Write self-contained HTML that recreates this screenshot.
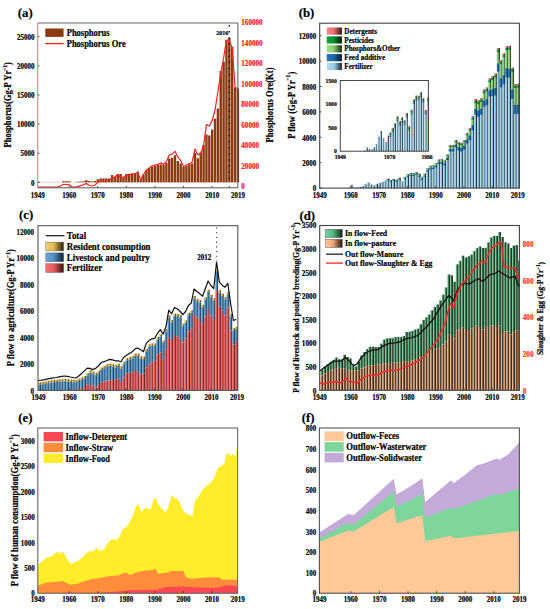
<!DOCTYPE html>
<html><head><meta charset="utf-8"><style>
html,body{margin:0;padding:0;background:#fff;}
svg{display:block;}
text{stroke-width:0.18px;paint-order:fill;}
</style></head><body>
<svg width="550" height="609" viewBox="0 0 550 609" font-family='"Liberation Serif", serif'>
<defs><linearGradient id="gDet" x1="0" y1="0" x2="1" y2="0"><stop offset="0" stop-color="#f58a8a"/><stop offset="0.45" stop-color="#e87070"/><stop offset="1" stop-color="#3a1010"/></linearGradient><linearGradient id="gPes" x1="0" y1="0" x2="1" y2="0"><stop offset="0" stop-color="#10a838"/><stop offset="0.45" stop-color="#089030"/><stop offset="1" stop-color="#001a08"/></linearGradient><linearGradient id="gPho" x1="0" y1="0" x2="1" y2="0"><stop offset="0" stop-color="#a0e090"/><stop offset="0.45" stop-color="#88cc70"/><stop offset="1" stop-color="#1a2a14"/></linearGradient><linearGradient id="gFeed" x1="0" y1="0" x2="1" y2="0"><stop offset="0" stop-color="#2a78b8"/><stop offset="0.45" stop-color="#1c68a8"/><stop offset="1" stop-color="#001828"/></linearGradient><linearGradient id="gFer" x1="0" y1="0" x2="1" y2="0"><stop offset="0" stop-color="#b8e4f8"/><stop offset="0.4" stop-color="#98cee6"/><stop offset="0.65" stop-color="#6890a4"/><stop offset="0.8" stop-color="#243440"/><stop offset="1" stop-color="#050d14"/></linearGradient><linearGradient id="gFerL" x1="0" y1="0" x2="1" y2="0"><stop offset="0" stop-color="#b0e0f4"/><stop offset="0.5" stop-color="#98cce4"/><stop offset="1" stop-color="#12202c"/></linearGradient><linearGradient id="gRes" x1="0" y1="0" x2="1" y2="0"><stop offset="0" stop-color="#f4d070"/><stop offset="0.45" stop-color="#e0b850"/><stop offset="1" stop-color="#2a1c06"/></linearGradient><linearGradient id="gLive" x1="0" y1="0" x2="1" y2="0"><stop offset="0" stop-color="#6aa8d8"/><stop offset="0.45" stop-color="#5090c0"/><stop offset="1" stop-color="#0c1c2c"/></linearGradient><linearGradient id="gCFer" x1="0" y1="0" x2="1" y2="0"><stop offset="0" stop-color="#f87070"/><stop offset="0.45" stop-color="#e05c5c"/><stop offset="1" stop-color="#3a0c0c"/></linearGradient><linearGradient id="gFeedD" x1="0" y1="0" x2="1" y2="0"><stop offset="0" stop-color="#7ae0a2"/><stop offset="0.28" stop-color="#5aac7a"/><stop offset="0.55" stop-color="#36543e"/><stop offset="1" stop-color="#0c140c"/></linearGradient><linearGradient id="gPas" x1="0" y1="0" x2="1" y2="0"><stop offset="0" stop-color="#ffc898"/><stop offset="0.28" stop-color="#dc9e74"/><stop offset="0.55" stop-color="#5e4432"/><stop offset="1" stop-color="#1a140c"/></linearGradient><linearGradient id="gFeedL" x1="0" y1="0" x2="1" y2="0"><stop offset="0" stop-color="#70d8a0"/><stop offset="0.45" stop-color="#58b880"/><stop offset="1" stop-color="#0c2414"/></linearGradient><linearGradient id="gPasL" x1="0" y1="0" x2="1" y2="0"><stop offset="0" stop-color="#ffc898"/><stop offset="0.45" stop-color="#eaa878"/><stop offset="1" stop-color="#2a1808"/></linearGradient></defs>
<rect width="550" height="609" fill="#fff"/>
<rect x="62.24" y="181.20" width="2.40" height="1.10" fill="#8c3a10"/>
<rect x="65.10" y="181.20" width="2.40" height="1.10" fill="#8c3a10"/>
<rect x="67.96" y="181.20" width="2.40" height="1.10" fill="#8c3a10"/>
<rect x="76.54" y="181.80" width="2.40" height="0.50" fill="#8c3a10"/>
<rect x="79.40" y="181.60" width="2.40" height="0.70" fill="#8c3a10"/>
<rect x="82.26" y="181.30" width="2.40" height="1.00" fill="#8c3a10"/>
<rect x="85.12" y="180.20" width="2.40" height="2.10" fill="#8c3a10"/>
<rect x="87.98" y="181.00" width="2.40" height="1.30" fill="#8c3a10"/>
<rect x="90.84" y="181.50" width="2.40" height="0.80" fill="#8c3a10"/>
<rect x="93.70" y="181.00" width="2.40" height="1.30" fill="#8c3a10"/>
<rect x="96.56" y="179.40" width="2.40" height="2.90" fill="#8c3a10"/>
<rect x="99.42" y="178.40" width="2.40" height="3.90" fill="#8c3a10"/>
<rect x="102.28" y="178.40" width="2.40" height="3.90" fill="#8c3a10"/>
<rect x="105.14" y="178.40" width="2.40" height="3.90" fill="#8c3a10"/>
<rect x="108.00" y="178.40" width="2.40" height="3.90" fill="#8c3a10"/>
<rect x="110.86" y="175.00" width="2.40" height="7.30" fill="#8c3a10"/>
<rect x="113.72" y="176.70" width="2.40" height="5.60" fill="#8c3a10"/>
<rect x="116.58" y="174.00" width="2.40" height="8.30" fill="#8c3a10"/>
<rect x="119.44" y="174.00" width="2.40" height="8.30" fill="#8c3a10"/>
<rect x="122.30" y="176.50" width="2.40" height="5.80" fill="#8c3a10"/>
<rect x="125.16" y="174.00" width="2.40" height="8.30" fill="#8c3a10"/>
<rect x="128.02" y="173.80" width="2.40" height="8.50" fill="#8c3a10"/>
<rect x="130.88" y="173.80" width="2.40" height="8.50" fill="#8c3a10"/>
<rect x="133.74" y="173.50" width="2.40" height="8.80" fill="#8c3a10"/>
<rect x="136.60" y="171.60" width="2.40" height="10.70" fill="#8c3a10"/>
<rect x="139.46" y="179.00" width="2.40" height="3.30" fill="#8c3a10"/>
<rect x="142.32" y="174.50" width="2.40" height="7.80" fill="#8c3a10"/>
<rect x="145.18" y="170.00" width="2.40" height="12.30" fill="#8c3a10"/>
<rect x="148.04" y="168.00" width="2.40" height="14.30" fill="#8c3a10"/>
<rect x="150.90" y="166.50" width="2.40" height="15.80" fill="#8c3a10"/>
<rect x="153.76" y="165.80" width="2.40" height="16.50" fill="#8c3a10"/>
<rect x="156.62" y="165.00" width="2.40" height="17.30" fill="#8c3a10"/>
<rect x="159.48" y="164.40" width="2.40" height="17.90" fill="#8c3a10"/>
<rect x="162.34" y="165.00" width="2.40" height="17.30" fill="#8c3a10"/>
<rect x="165.20" y="163.00" width="2.40" height="19.30" fill="#8c3a10"/>
<rect x="168.06" y="158.50" width="2.40" height="23.80" fill="#8c3a10"/>
<rect x="170.92" y="157.80" width="2.40" height="24.50" fill="#8c3a10"/>
<rect x="173.78" y="155.30" width="2.40" height="27.00" fill="#8c3a10"/>
<rect x="176.64" y="161.00" width="2.40" height="21.30" fill="#8c3a10"/>
<rect x="179.50" y="163.50" width="2.40" height="18.80" fill="#8c3a10"/>
<rect x="182.36" y="167.00" width="2.40" height="15.30" fill="#8c3a10"/>
<rect x="185.22" y="165.70" width="2.40" height="16.60" fill="#8c3a10"/>
<rect x="188.08" y="164.20" width="2.40" height="18.10" fill="#8c3a10"/>
<rect x="190.94" y="163.50" width="2.40" height="18.80" fill="#8c3a10"/>
<rect x="193.80" y="153.00" width="2.40" height="29.30" fill="#8c3a10"/>
<rect x="196.66" y="158.30" width="2.40" height="24.00" fill="#8c3a10"/>
<rect x="199.52" y="152.40" width="2.40" height="29.90" fill="#8c3a10"/>
<rect x="202.38" y="145.00" width="2.40" height="37.30" fill="#8c3a10"/>
<rect x="205.24" y="134.50" width="2.40" height="47.80" fill="#8c3a10"/>
<rect x="208.10" y="135.40" width="2.40" height="46.90" fill="#8c3a10"/>
<rect x="210.96" y="129.50" width="2.40" height="52.80" fill="#8c3a10"/>
<rect x="213.82" y="118.80" width="2.40" height="63.50" fill="#8c3a10"/>
<rect x="216.68" y="108.50" width="2.40" height="73.80" fill="#8c3a10"/>
<rect x="219.54" y="71.00" width="2.40" height="111.30" fill="#8c3a10"/>
<rect x="222.40" y="61.80" width="2.40" height="120.50" fill="#8c3a10"/>
<rect x="225.26" y="39.80" width="2.40" height="142.50" fill="#8c3a10"/>
<rect x="228.12" y="38.00" width="2.40" height="144.30" fill="#8c3a10"/>
<rect x="230.98" y="46.80" width="2.40" height="135.50" fill="#8c3a10"/>
<rect x="233.84" y="87.50" width="2.40" height="94.80" fill="#8c3a10"/>
<rect x="236.70" y="88.70" width="2.40" height="93.60" fill="#8c3a10"/>
<line x1="37.70" y1="182.30" x2="237.90" y2="182.30" stroke="#b86a40" stroke-width="0.5" stroke-dasharray="1.5,1.2"/>
<line x1="37.70" y1="182.30" x2="39.70" y2="182.30" stroke="#333" stroke-width="0.8"/>
<polyline points="37.70,187.00 57.72,186.80 60.58,186.00 63.44,184.30 66.30,184.50 69.16,184.80 72.02,187.00 74.88,187.00 77.74,186.60 80.60,185.60 83.46,184.80 86.32,183.40 89.18,185.50 92.04,186.00 94.90,185.00 97.76,182.50 100.62,181.00 103.48,181.50 106.34,181.50 109.20,180.00 112.06,178.40 114.92,177.00 117.78,174.50 120.64,177.50 123.50,178.00 126.36,175.30 129.22,174.50 132.08,173.80 134.94,173.50 137.80,173.00 140.66,179.60 143.52,174.50 146.38,170.20 149.24,168.00 152.10,165.80 154.96,165.00 157.82,164.40 160.68,163.00 163.54,164.40 166.40,161.50 169.26,155.00 172.12,154.20 174.98,151.30 177.84,157.00 180.70,160.70 183.56,166.50 186.42,165.00 189.28,163.60 192.14,162.20 195.00,149.00 197.86,155.00 200.72,153.00 203.58,145.50 206.44,124.60 209.30,126.00 212.16,120.60 215.02,110.00 217.88,92.00 220.74,73.00 223.60,58.00 226.46,40.00 229.32,40.80 232.18,47.70 235.04,87.00 237.90,89.00" fill="none" stroke="#ff2020" stroke-width="1.2" stroke-linejoin="round"/>
<line x1="229.32" y1="25.00" x2="229.32" y2="182.30" stroke="#111" stroke-width="1.4" stroke-dasharray="1.5,4.6"/>
<text x="0" y="0" transform="translate(222.30 32.00) scale(1 1.15)" font-size="6.1" text-anchor="middle" fill="#000" stroke="#000" font-weight="bold" dominant-baseline="central">2016</text>
<line x1="37.70" y1="23.00" x2="237.90" y2="23.00" stroke="#666" stroke-width="1.0"/>
<line x1="237.90" y1="23.00" x2="237.90" y2="187.80" stroke="#555" stroke-width="1.0"/>
<line x1="37.70" y1="187.80" x2="237.90" y2="187.80" stroke="#555" stroke-width="1.0"/>
<line x1="37.70" y1="23.00" x2="37.70" y2="187.80" stroke="#c09080" stroke-width="1.1"/>
<line x1="69.16" y1="187.80" x2="69.16" y2="185.80" stroke="#333" stroke-width="0.8"/>
<line x1="97.76" y1="187.80" x2="97.76" y2="185.80" stroke="#333" stroke-width="0.8"/>
<line x1="126.36" y1="187.80" x2="126.36" y2="185.80" stroke="#333" stroke-width="0.8"/>
<line x1="154.96" y1="187.80" x2="154.96" y2="185.80" stroke="#333" stroke-width="0.8"/>
<line x1="183.56" y1="187.80" x2="183.56" y2="185.80" stroke="#333" stroke-width="0.8"/>
<line x1="212.16" y1="187.80" x2="212.16" y2="185.80" stroke="#333" stroke-width="0.8"/>
<line x1="229.32" y1="187.80" x2="229.32" y2="185.80" stroke="#333" stroke-width="0.8"/>
<line x1="37.70" y1="182.30" x2="39.70" y2="182.30" stroke="#8c3a10" stroke-width="0.8"/>
<text x="0" y="0" transform="translate(34.50 182.90) scale(1 1.15)" font-size="7" text-anchor="end" fill="#000" stroke="#000" font-weight="bold" dominant-baseline="central">0</text>
<line x1="37.70" y1="153.20" x2="39.70" y2="153.20" stroke="#8c3a10" stroke-width="0.8"/>
<text x="0" y="0" transform="translate(34.50 153.80) scale(1 1.15)" font-size="7" text-anchor="end" fill="#000" stroke="#000" font-weight="bold" dominant-baseline="central">5000</text>
<line x1="37.70" y1="124.10" x2="39.70" y2="124.10" stroke="#8c3a10" stroke-width="0.8"/>
<text x="0" y="0" transform="translate(34.50 124.70) scale(1 1.15)" font-size="7" text-anchor="end" fill="#000" stroke="#000" font-weight="bold" dominant-baseline="central">10000</text>
<line x1="37.70" y1="95.00" x2="39.70" y2="95.00" stroke="#8c3a10" stroke-width="0.8"/>
<text x="0" y="0" transform="translate(34.50 95.60) scale(1 1.15)" font-size="7" text-anchor="end" fill="#000" stroke="#000" font-weight="bold" dominant-baseline="central">15000</text>
<line x1="37.70" y1="65.90" x2="39.70" y2="65.90" stroke="#8c3a10" stroke-width="0.8"/>
<text x="0" y="0" transform="translate(34.50 66.50) scale(1 1.15)" font-size="7" text-anchor="end" fill="#000" stroke="#000" font-weight="bold" dominant-baseline="central">20000</text>
<line x1="37.70" y1="36.80" x2="39.70" y2="36.80" stroke="#8c3a10" stroke-width="0.8"/>
<text x="0" y="0" transform="translate(34.50 37.40) scale(1 1.15)" font-size="7" text-anchor="end" fill="#000" stroke="#000" font-weight="bold" dominant-baseline="central">25000</text>
<text x="0" y="0" transform="translate(241.30 186.50) scale(1 1.15)" font-size="7.1" text-anchor="start" fill="#ff1818" stroke="#ff1818" font-weight="bold" dominant-baseline="central">0</text>
<text x="0" y="0" transform="translate(241.30 166.00) scale(1 1.15)" font-size="7.1" text-anchor="start" fill="#ff1818" stroke="#ff1818" font-weight="bold" dominant-baseline="central">20000</text>
<text x="0" y="0" transform="translate(241.30 145.50) scale(1 1.15)" font-size="7.1" text-anchor="start" fill="#ff1818" stroke="#ff1818" font-weight="bold" dominant-baseline="central">40000</text>
<text x="0" y="0" transform="translate(241.30 125.00) scale(1 1.15)" font-size="7.1" text-anchor="start" fill="#ff1818" stroke="#ff1818" font-weight="bold" dominant-baseline="central">60000</text>
<text x="0" y="0" transform="translate(241.30 104.50) scale(1 1.15)" font-size="7.1" text-anchor="start" fill="#ff1818" stroke="#ff1818" font-weight="bold" dominant-baseline="central">80000</text>
<text x="0" y="0" transform="translate(241.30 84.00) scale(1 1.15)" font-size="7.1" text-anchor="start" fill="#ff1818" stroke="#ff1818" font-weight="bold" dominant-baseline="central">100000</text>
<text x="0" y="0" transform="translate(241.30 63.50) scale(1 1.15)" font-size="7.1" text-anchor="start" fill="#ff1818" stroke="#ff1818" font-weight="bold" dominant-baseline="central">120000</text>
<text x="0" y="0" transform="translate(241.30 43.00) scale(1 1.15)" font-size="7.1" text-anchor="start" fill="#ff1818" stroke="#ff1818" font-weight="bold" dominant-baseline="central">140000</text>
<text x="0" y="0" transform="translate(241.30 22.50) scale(1 1.15)" font-size="7.1" text-anchor="start" fill="#ff1818" stroke="#ff1818" font-weight="bold" dominant-baseline="central">160000</text>
<text x="0" y="0" transform="translate(37.70 195.30) scale(1 1.15)" font-size="7" text-anchor="middle" fill="#000" stroke="#000" font-weight="bold" dominant-baseline="central">1949</text>
<text x="0" y="0" transform="translate(69.16 195.30) scale(1 1.15)" font-size="7" text-anchor="middle" fill="#000" stroke="#000" font-weight="bold" dominant-baseline="central">1960</text>
<text x="0" y="0" transform="translate(97.76 195.30) scale(1 1.15)" font-size="7" text-anchor="middle" fill="#000" stroke="#000" font-weight="bold" dominant-baseline="central">1970</text>
<text x="0" y="0" transform="translate(126.36 195.30) scale(1 1.15)" font-size="7" text-anchor="middle" fill="#000" stroke="#000" font-weight="bold" dominant-baseline="central">1980</text>
<text x="0" y="0" transform="translate(154.96 195.30) scale(1 1.15)" font-size="7" text-anchor="middle" fill="#000" stroke="#000" font-weight="bold" dominant-baseline="central">1990</text>
<text x="0" y="0" transform="translate(183.56 195.30) scale(1 1.15)" font-size="7" text-anchor="middle" fill="#000" stroke="#000" font-weight="bold" dominant-baseline="central">2000</text>
<text x="0" y="0" transform="translate(212.16 195.30) scale(1 1.15)" font-size="7" text-anchor="middle" fill="#000" stroke="#000" font-weight="bold" dominant-baseline="central">2010</text>
<text x="0" y="0" transform="translate(237.90 195.30) scale(1 1.15)" font-size="7" text-anchor="middle" fill="#000" stroke="#000" font-weight="bold" dominant-baseline="central">2019</text>
<text x="0" y="0" font-size="8.6" font-weight="bold" stroke="#000" text-anchor="middle" dominant-baseline="central" transform="translate(8.3 104.8) rotate(-90) scale(1 1.12)">Phosphorus(Gg-P Yr<tspan dy="-3" font-size="5.5">&#8722;1</tspan><tspan dy="3">)</tspan></text>
<text x="0" y="0" font-size="8.6" font-weight="bold" stroke="#000" text-anchor="middle" dominant-baseline="central" transform="translate(270 105) rotate(-90) scale(1 1.12)">Phosphorus Ore(Kt)</text>
<text x="0" y="0" transform="translate(25.20 12.90) scale(1 1.04)" font-size="12.8" text-anchor="middle" fill="#000" stroke="#000" font-weight="bold" dominant-baseline="central">(a)</text>
<rect x="45.30" y="28.50" width="18.30" height="8.40" fill="#8c3a10"/>
<text x="0" y="0" transform="translate(66.70 32.70) scale(1 1.15)" font-size="8.5" text-anchor="start" fill="#000" stroke="#000" font-weight="bold" dominant-baseline="central">Phosphorus</text>
<line x1="45.30" y1="43.60" x2="63.60" y2="43.60" stroke="#ff1a1a" stroke-width="1.3"/>
<text x="0" y="0" transform="translate(66.70 43.80) scale(1 1.15)" font-size="8.5" text-anchor="start" fill="#000" stroke="#000" font-weight="bold" dominant-baseline="central">Phosphorus Ore</text>
<rect x="349.68" y="184.80" width="2.83" height="3.30" fill="url(#gFer)"/>
<rect x="352.51" y="187.53" width="2.83" height="0.57" fill="url(#gFer)"/>
<rect x="355.34" y="187.53" width="2.83" height="0.57" fill="url(#gFer)"/>
<rect x="358.17" y="187.08" width="2.83" height="1.02" fill="url(#gFer)"/>
<rect x="361.00" y="186.19" width="2.83" height="1.91" fill="url(#gFer)"/>
<rect x="363.83" y="184.16" width="2.83" height="3.94" fill="url(#gFer)"/>
<rect x="366.66" y="182.64" width="2.83" height="5.46" fill="url(#gFer)"/>
<rect x="369.49" y="184.54" width="2.83" height="3.56" fill="url(#gFer)"/>
<rect x="372.32" y="185.62" width="2.83" height="2.48" fill="url(#gFer)"/>
<rect x="375.15" y="183.85" width="2.83" height="4.25" fill="url(#gFer)"/>
<rect x="377.98" y="183.02" width="2.83" height="5.08" fill="url(#gFer)"/>
<rect x="380.81" y="181.81" width="2.83" height="6.29" fill="url(#gFer)"/>
<rect x="383.64" y="180.61" width="2.83" height="7.49" fill="url(#gFer)"/>
<rect x="386.47" y="178.70" width="2.83" height="9.40" fill="url(#gFer)"/>
<rect x="386.47" y="178.70" width="2.83" height="0.50" fill="url(#gDet)"/>
<rect x="386.47" y="179.20" width="2.83" height="0.60" fill="url(#gPes)"/>
<rect x="386.47" y="179.80" width="2.83" height="0.46" fill="url(#gPho)"/>
<rect x="386.47" y="180.26" width="2.83" height="0.46" fill="url(#gFeed)"/>
<rect x="389.30" y="180.02" width="2.83" height="8.08" fill="url(#gFer)"/>
<rect x="389.30" y="180.02" width="2.83" height="0.50" fill="url(#gDet)"/>
<rect x="389.30" y="180.52" width="2.83" height="0.60" fill="url(#gPes)"/>
<rect x="389.30" y="181.12" width="2.83" height="0.48" fill="url(#gPho)"/>
<rect x="389.30" y="181.60" width="2.83" height="0.48" fill="url(#gFeed)"/>
<rect x="392.13" y="178.96" width="2.83" height="9.14" fill="url(#gFer)"/>
<rect x="392.13" y="178.96" width="2.83" height="0.50" fill="url(#gDet)"/>
<rect x="392.13" y="179.46" width="2.83" height="0.60" fill="url(#gPes)"/>
<rect x="392.13" y="180.06" width="2.83" height="0.50" fill="url(#gPho)"/>
<rect x="392.13" y="180.56" width="2.83" height="0.50" fill="url(#gFeed)"/>
<rect x="394.96" y="179.72" width="2.83" height="8.38" fill="url(#gFer)"/>
<rect x="394.96" y="179.72" width="2.83" height="0.50" fill="url(#gDet)"/>
<rect x="394.96" y="180.22" width="2.83" height="0.60" fill="url(#gPes)"/>
<rect x="394.96" y="180.82" width="2.83" height="0.55" fill="url(#gPho)"/>
<rect x="394.96" y="181.37" width="2.83" height="0.55" fill="url(#gFeed)"/>
<rect x="397.79" y="177.79" width="2.83" height="10.31" fill="url(#gFer)"/>
<rect x="397.79" y="177.79" width="2.83" height="0.50" fill="url(#gDet)"/>
<rect x="397.79" y="178.29" width="2.83" height="0.60" fill="url(#gPes)"/>
<rect x="397.79" y="178.89" width="2.83" height="0.60" fill="url(#gPho)"/>
<rect x="397.79" y="179.49" width="2.83" height="0.60" fill="url(#gFeed)"/>
<rect x="400.62" y="181.37" width="2.83" height="6.73" fill="url(#gFer)"/>
<rect x="403.45" y="176.92" width="2.83" height="11.18" fill="url(#gFer)"/>
<rect x="403.45" y="176.92" width="2.83" height="0.50" fill="url(#gDet)"/>
<rect x="403.45" y="177.42" width="2.83" height="0.60" fill="url(#gPes)"/>
<rect x="403.45" y="178.02" width="2.83" height="0.70" fill="url(#gPho)"/>
<rect x="403.45" y="178.72" width="2.83" height="0.70" fill="url(#gFeed)"/>
<rect x="406.28" y="174.13" width="2.83" height="13.97" fill="url(#gFer)"/>
<rect x="406.28" y="174.13" width="2.83" height="0.50" fill="url(#gDet)"/>
<rect x="406.28" y="174.63" width="2.83" height="0.60" fill="url(#gPes)"/>
<rect x="406.28" y="175.23" width="2.83" height="0.75" fill="url(#gPho)"/>
<rect x="406.28" y="175.98" width="2.83" height="0.75" fill="url(#gFeed)"/>
<rect x="409.11" y="173.11" width="2.83" height="14.99" fill="url(#gFer)"/>
<rect x="409.11" y="173.11" width="2.83" height="0.50" fill="url(#gDet)"/>
<rect x="409.11" y="173.61" width="2.83" height="0.60" fill="url(#gPes)"/>
<rect x="409.11" y="174.21" width="2.83" height="0.80" fill="url(#gPho)"/>
<rect x="409.11" y="175.01" width="2.83" height="0.80" fill="url(#gFeed)"/>
<rect x="411.94" y="173.11" width="2.83" height="14.99" fill="url(#gFer)"/>
<rect x="411.94" y="173.11" width="2.83" height="0.50" fill="url(#gDet)"/>
<rect x="411.94" y="173.61" width="2.83" height="0.60" fill="url(#gPes)"/>
<rect x="411.94" y="174.21" width="2.83" height="0.85" fill="url(#gPho)"/>
<rect x="411.94" y="175.06" width="2.83" height="0.85" fill="url(#gFeed)"/>
<rect x="414.77" y="172.22" width="2.83" height="15.88" fill="url(#gFer)"/>
<rect x="414.77" y="172.22" width="2.83" height="0.50" fill="url(#gDet)"/>
<rect x="414.77" y="172.72" width="2.83" height="0.60" fill="url(#gPes)"/>
<rect x="414.77" y="173.32" width="2.83" height="0.90" fill="url(#gPho)"/>
<rect x="414.77" y="174.22" width="2.83" height="0.90" fill="url(#gFeed)"/>
<rect x="417.60" y="173.75" width="2.83" height="14.35" fill="url(#gFer)"/>
<rect x="417.60" y="173.75" width="2.83" height="0.50" fill="url(#gDet)"/>
<rect x="417.60" y="174.25" width="2.83" height="0.60" fill="url(#gPes)"/>
<rect x="417.60" y="174.85" width="2.83" height="0.95" fill="url(#gPho)"/>
<rect x="417.60" y="175.80" width="2.83" height="0.95" fill="url(#gFeed)"/>
<rect x="420.43" y="176.96" width="2.83" height="11.14" fill="url(#gFer)"/>
<rect x="420.43" y="176.96" width="2.83" height="0.50" fill="url(#gDet)"/>
<rect x="420.43" y="177.46" width="2.83" height="0.60" fill="url(#gPes)"/>
<rect x="420.43" y="178.06" width="2.83" height="1.00" fill="url(#gPho)"/>
<rect x="420.43" y="179.06" width="2.83" height="1.00" fill="url(#gFeed)"/>
<rect x="423.26" y="173.53" width="2.83" height="14.57" fill="url(#gFer)"/>
<rect x="423.26" y="173.53" width="2.83" height="0.50" fill="url(#gDet)"/>
<rect x="423.26" y="174.03" width="2.83" height="0.60" fill="url(#gPes)"/>
<rect x="423.26" y="174.63" width="2.83" height="1.10" fill="url(#gPho)"/>
<rect x="423.26" y="175.73" width="2.83" height="1.10" fill="url(#gFeed)"/>
<rect x="426.09" y="168.40" width="2.83" height="19.70" fill="url(#gFer)"/>
<rect x="426.09" y="168.40" width="2.83" height="0.50" fill="url(#gDet)"/>
<rect x="426.09" y="168.90" width="2.83" height="0.60" fill="url(#gPes)"/>
<rect x="426.09" y="169.50" width="2.83" height="1.20" fill="url(#gPho)"/>
<rect x="426.09" y="170.70" width="2.83" height="1.20" fill="url(#gFeed)"/>
<rect x="428.92" y="165.80" width="2.83" height="22.30" fill="url(#gFer)"/>
<rect x="428.92" y="165.80" width="2.83" height="0.50" fill="url(#gDet)"/>
<rect x="428.92" y="166.30" width="2.83" height="0.60" fill="url(#gPes)"/>
<rect x="428.92" y="166.90" width="2.83" height="1.30" fill="url(#gPho)"/>
<rect x="428.92" y="168.20" width="2.83" height="1.30" fill="url(#gFeed)"/>
<rect x="431.75" y="165.10" width="2.83" height="23.00" fill="url(#gFer)"/>
<rect x="431.75" y="165.10" width="2.83" height="0.50" fill="url(#gDet)"/>
<rect x="431.75" y="165.60" width="2.83" height="0.60" fill="url(#gPes)"/>
<rect x="431.75" y="166.20" width="2.83" height="1.40" fill="url(#gPho)"/>
<rect x="431.75" y="167.60" width="2.83" height="1.40" fill="url(#gFeed)"/>
<rect x="434.58" y="163.20" width="2.83" height="24.90" fill="url(#gFer)"/>
<rect x="434.58" y="163.20" width="2.83" height="0.50" fill="url(#gDet)"/>
<rect x="434.58" y="163.70" width="2.83" height="0.60" fill="url(#gPes)"/>
<rect x="434.58" y="164.30" width="2.83" height="1.50" fill="url(#gPho)"/>
<rect x="434.58" y="165.80" width="2.83" height="1.50" fill="url(#gFeed)"/>
<rect x="437.41" y="159.60" width="2.83" height="28.50" fill="url(#gFer)"/>
<rect x="437.41" y="159.60" width="2.83" height="0.50" fill="url(#gDet)"/>
<rect x="437.41" y="160.10" width="2.83" height="0.60" fill="url(#gPes)"/>
<rect x="437.41" y="160.70" width="2.83" height="1.61" fill="url(#gPho)"/>
<rect x="437.41" y="162.31" width="2.83" height="1.67" fill="url(#gFeed)"/>
<rect x="440.24" y="159.20" width="2.83" height="28.90" fill="url(#gFer)"/>
<rect x="440.24" y="159.20" width="2.83" height="0.50" fill="url(#gDet)"/>
<rect x="440.24" y="159.70" width="2.83" height="0.60" fill="url(#gPes)"/>
<rect x="440.24" y="160.30" width="2.83" height="1.73" fill="url(#gPho)"/>
<rect x="440.24" y="162.03" width="2.83" height="1.84" fill="url(#gFeed)"/>
<rect x="443.07" y="160.50" width="2.83" height="27.60" fill="url(#gFer)"/>
<rect x="443.07" y="160.50" width="2.83" height="0.50" fill="url(#gDet)"/>
<rect x="443.07" y="161.00" width="2.83" height="0.60" fill="url(#gPes)"/>
<rect x="443.07" y="161.60" width="2.83" height="1.84" fill="url(#gPho)"/>
<rect x="443.07" y="163.44" width="2.83" height="2.01" fill="url(#gFeed)"/>
<rect x="445.90" y="154.60" width="2.83" height="33.50" fill="url(#gFer)"/>
<rect x="445.90" y="154.60" width="2.83" height="0.60" fill="url(#gDet)"/>
<rect x="445.90" y="155.20" width="2.83" height="0.70" fill="url(#gPes)"/>
<rect x="445.90" y="155.91" width="2.83" height="1.96" fill="url(#gPho)"/>
<rect x="445.90" y="157.87" width="2.83" height="2.19" fill="url(#gFeed)"/>
<rect x="448.73" y="145.10" width="2.83" height="43.00" fill="url(#gFer)"/>
<rect x="448.73" y="145.10" width="2.83" height="0.89" fill="url(#gDet)"/>
<rect x="448.73" y="145.99" width="2.83" height="0.99" fill="url(#gPes)"/>
<rect x="448.73" y="146.98" width="2.83" height="2.07" fill="url(#gPho)"/>
<rect x="448.73" y="149.05" width="2.83" height="2.36" fill="url(#gFeed)"/>
<rect x="451.56" y="145.00" width="2.83" height="43.10" fill="url(#gFer)"/>
<rect x="451.56" y="145.00" width="2.83" height="0.89" fill="url(#gDet)"/>
<rect x="451.56" y="145.89" width="2.83" height="0.99" fill="url(#gPes)"/>
<rect x="451.56" y="146.89" width="2.83" height="2.19" fill="url(#gPho)"/>
<rect x="451.56" y="149.07" width="2.83" height="2.53" fill="url(#gFeed)"/>
<rect x="454.39" y="140.20" width="2.83" height="47.90" fill="url(#gFer)"/>
<rect x="454.39" y="140.20" width="2.83" height="1.04" fill="url(#gDet)"/>
<rect x="454.39" y="141.24" width="2.83" height="1.14" fill="url(#gPes)"/>
<rect x="454.39" y="142.37" width="2.83" height="2.30" fill="url(#gPho)"/>
<rect x="454.39" y="144.67" width="2.83" height="2.70" fill="url(#gFeed)"/>
<rect x="457.22" y="142.40" width="2.83" height="45.70" fill="url(#gFer)"/>
<rect x="457.22" y="142.40" width="2.83" height="0.97" fill="url(#gDet)"/>
<rect x="457.22" y="143.37" width="2.83" height="1.07" fill="url(#gPes)"/>
<rect x="457.22" y="144.44" width="2.83" height="2.72" fill="url(#gPho)"/>
<rect x="457.22" y="147.17" width="2.83" height="3.03" fill="url(#gFeed)"/>
<rect x="460.05" y="142.90" width="2.83" height="45.20" fill="url(#gFer)"/>
<rect x="460.05" y="142.90" width="2.83" height="0.96" fill="url(#gDet)"/>
<rect x="460.05" y="143.86" width="2.83" height="1.06" fill="url(#gPes)"/>
<rect x="460.05" y="144.91" width="2.83" height="3.15" fill="url(#gPho)"/>
<rect x="460.05" y="148.06" width="2.83" height="3.35" fill="url(#gFeed)"/>
<rect x="462.88" y="140.20" width="2.83" height="47.90" fill="url(#gFer)"/>
<rect x="462.88" y="140.20" width="2.83" height="1.04" fill="url(#gDet)"/>
<rect x="462.88" y="141.24" width="2.83" height="1.14" fill="url(#gPes)"/>
<rect x="462.88" y="142.37" width="2.83" height="3.58" fill="url(#gPho)"/>
<rect x="462.88" y="145.95" width="2.83" height="3.67" fill="url(#gFeed)"/>
<rect x="465.71" y="132.90" width="2.83" height="55.20" fill="url(#gFer)"/>
<rect x="465.71" y="132.90" width="2.83" height="1.26" fill="url(#gDet)"/>
<rect x="465.71" y="134.16" width="2.83" height="1.36" fill="url(#gPes)"/>
<rect x="465.71" y="135.51" width="2.83" height="4.00" fill="url(#gPho)"/>
<rect x="465.71" y="139.51" width="2.83" height="4.00" fill="url(#gFeed)"/>
<rect x="468.54" y="128.00" width="2.83" height="60.10" fill="url(#gFer)"/>
<rect x="468.54" y="128.00" width="2.83" height="1.40" fill="url(#gDet)"/>
<rect x="468.54" y="129.40" width="2.83" height="1.50" fill="url(#gPes)"/>
<rect x="468.54" y="130.91" width="2.83" height="4.63" fill="url(#gPho)"/>
<rect x="468.54" y="135.54" width="2.83" height="4.63" fill="url(#gFeed)"/>
<rect x="471.37" y="116.20" width="2.83" height="71.90" fill="url(#gFer)"/>
<rect x="471.37" y="116.20" width="2.83" height="1.76" fill="url(#gDet)"/>
<rect x="471.37" y="117.96" width="2.83" height="1.86" fill="url(#gPes)"/>
<rect x="471.37" y="119.81" width="2.83" height="5.27" fill="url(#gPho)"/>
<rect x="471.37" y="125.08" width="2.83" height="5.27" fill="url(#gFeed)"/>
<rect x="474.20" y="99.00" width="2.83" height="89.10" fill="url(#gFer)"/>
<rect x="474.20" y="99.00" width="2.83" height="1.80" fill="url(#gDet)"/>
<rect x="474.20" y="100.80" width="2.83" height="2.20" fill="url(#gPes)"/>
<rect x="474.20" y="103.00" width="2.83" height="5.90" fill="url(#gPho)"/>
<rect x="474.20" y="108.90" width="2.83" height="5.90" fill="url(#gFeed)"/>
<rect x="477.03" y="100.40" width="2.83" height="87.70" fill="url(#gFer)"/>
<rect x="477.03" y="100.40" width="2.83" height="1.80" fill="url(#gDet)"/>
<rect x="477.03" y="102.20" width="2.83" height="2.20" fill="url(#gPes)"/>
<rect x="477.03" y="104.40" width="2.83" height="6.32" fill="url(#gPho)"/>
<rect x="477.03" y="110.72" width="2.83" height="5.92" fill="url(#gFeed)"/>
<rect x="479.86" y="98.00" width="2.83" height="90.10" fill="url(#gFer)"/>
<rect x="479.86" y="98.00" width="2.83" height="1.80" fill="url(#gDet)"/>
<rect x="479.86" y="99.80" width="2.83" height="2.20" fill="url(#gPes)"/>
<rect x="479.86" y="102.00" width="2.83" height="6.74" fill="url(#gPho)"/>
<rect x="479.86" y="108.74" width="2.83" height="5.94" fill="url(#gFeed)"/>
<rect x="482.69" y="89.50" width="2.83" height="98.60" fill="url(#gFer)"/>
<rect x="482.69" y="89.50" width="2.83" height="1.80" fill="url(#gDet)"/>
<rect x="482.69" y="91.30" width="2.83" height="2.20" fill="url(#gPes)"/>
<rect x="482.69" y="93.50" width="2.83" height="7.16" fill="url(#gPho)"/>
<rect x="482.69" y="100.66" width="2.83" height="5.96" fill="url(#gFeed)"/>
<rect x="485.52" y="87.60" width="2.83" height="100.50" fill="url(#gFer)"/>
<rect x="485.52" y="87.60" width="2.83" height="1.80" fill="url(#gDet)"/>
<rect x="485.52" y="89.40" width="2.83" height="2.20" fill="url(#gPes)"/>
<rect x="485.52" y="91.60" width="2.83" height="7.58" fill="url(#gPho)"/>
<rect x="485.52" y="99.18" width="2.83" height="5.98" fill="url(#gFeed)"/>
<rect x="488.35" y="78.40" width="2.83" height="109.70" fill="url(#gFer)"/>
<rect x="488.35" y="78.40" width="2.83" height="1.80" fill="url(#gDet)"/>
<rect x="488.35" y="80.20" width="2.83" height="2.20" fill="url(#gPes)"/>
<rect x="488.35" y="82.40" width="2.83" height="8.00" fill="url(#gPho)"/>
<rect x="488.35" y="90.40" width="2.83" height="6.00" fill="url(#gFeed)"/>
<rect x="491.18" y="76.20" width="2.83" height="111.90" fill="url(#gFer)"/>
<rect x="491.18" y="76.20" width="2.83" height="1.80" fill="url(#gDet)"/>
<rect x="491.18" y="78.00" width="2.83" height="2.20" fill="url(#gPes)"/>
<rect x="491.18" y="80.20" width="2.83" height="9.17" fill="url(#gPho)"/>
<rect x="491.18" y="89.37" width="2.83" height="6.70" fill="url(#gFeed)"/>
<rect x="494.01" y="73.70" width="2.83" height="114.40" fill="url(#gFer)"/>
<rect x="494.01" y="73.70" width="2.83" height="1.80" fill="url(#gDet)"/>
<rect x="494.01" y="75.50" width="2.83" height="2.20" fill="url(#gPes)"/>
<rect x="494.01" y="77.70" width="2.83" height="10.33" fill="url(#gPho)"/>
<rect x="494.01" y="88.03" width="2.83" height="7.40" fill="url(#gFeed)"/>
<rect x="496.84" y="48.10" width="2.83" height="140.00" fill="url(#gFer)"/>
<rect x="496.84" y="48.10" width="2.83" height="1.80" fill="url(#gDet)"/>
<rect x="496.84" y="49.90" width="2.83" height="2.20" fill="url(#gPes)"/>
<rect x="496.84" y="52.10" width="2.83" height="11.50" fill="url(#gPho)"/>
<rect x="496.84" y="63.60" width="2.83" height="8.10" fill="url(#gFeed)"/>
<rect x="499.67" y="60.00" width="2.83" height="128.10" fill="url(#gFer)"/>
<rect x="499.67" y="60.00" width="2.83" height="1.80" fill="url(#gDet)"/>
<rect x="499.67" y="61.80" width="2.83" height="2.20" fill="url(#gPes)"/>
<rect x="499.67" y="64.00" width="2.83" height="14.40" fill="url(#gPho)"/>
<rect x="499.67" y="78.40" width="2.83" height="9.00" fill="url(#gFeed)"/>
<rect x="502.50" y="53.30" width="2.83" height="134.80" fill="url(#gFer)"/>
<rect x="502.50" y="53.30" width="2.83" height="1.80" fill="url(#gDet)"/>
<rect x="502.50" y="55.10" width="2.83" height="2.20" fill="url(#gPes)"/>
<rect x="502.50" y="57.30" width="2.83" height="18.00" fill="url(#gPho)"/>
<rect x="502.50" y="75.30" width="2.83" height="9.00" fill="url(#gFeed)"/>
<rect x="505.33" y="46.30" width="2.83" height="141.80" fill="url(#gFer)"/>
<rect x="505.33" y="46.30" width="2.83" height="1.80" fill="url(#gDet)"/>
<rect x="505.33" y="48.10" width="2.83" height="2.20" fill="url(#gPes)"/>
<rect x="505.33" y="50.30" width="2.83" height="18.00" fill="url(#gPho)"/>
<rect x="505.33" y="68.30" width="2.83" height="9.00" fill="url(#gFeed)"/>
<rect x="508.16" y="45.80" width="2.83" height="142.30" fill="url(#gFer)"/>
<rect x="508.16" y="45.80" width="2.83" height="1.80" fill="url(#gDet)"/>
<rect x="508.16" y="47.60" width="2.83" height="2.20" fill="url(#gPes)"/>
<rect x="508.16" y="49.80" width="2.83" height="18.90" fill="url(#gPho)"/>
<rect x="508.16" y="68.70" width="2.83" height="9.00" fill="url(#gFeed)"/>
<rect x="510.99" y="67.80" width="2.83" height="120.30" fill="url(#gFer)"/>
<rect x="510.99" y="67.80" width="2.83" height="1.80" fill="url(#gDet)"/>
<rect x="510.99" y="69.60" width="2.83" height="2.20" fill="url(#gPes)"/>
<rect x="510.99" y="71.80" width="2.83" height="18.00" fill="url(#gPho)"/>
<rect x="510.99" y="89.80" width="2.83" height="9.00" fill="url(#gFeed)"/>
<rect x="513.82" y="84.00" width="2.83" height="104.10" fill="url(#gFer)"/>
<rect x="513.82" y="84.00" width="2.83" height="1.80" fill="url(#gDet)"/>
<rect x="513.82" y="85.80" width="2.83" height="2.20" fill="url(#gPes)"/>
<rect x="513.82" y="88.00" width="2.83" height="17.00" fill="url(#gPho)"/>
<rect x="513.82" y="105.00" width="2.83" height="9.00" fill="url(#gFeed)"/>
<rect x="516.65" y="83.80" width="2.83" height="104.30" fill="url(#gFer)"/>
<rect x="516.65" y="83.80" width="2.83" height="1.80" fill="url(#gDet)"/>
<rect x="516.65" y="85.60" width="2.83" height="2.20" fill="url(#gPes)"/>
<rect x="516.65" y="87.80" width="2.83" height="17.00" fill="url(#gPho)"/>
<rect x="516.65" y="104.80" width="2.83" height="9.00" fill="url(#gFeed)"/>
<rect x="319.70" y="23.20" width="199.70" height="164.90" fill="none" stroke="#444" stroke-width="1.1"/>
<line x1="350.83" y1="188.10" x2="350.83" y2="186.10" stroke="#333" stroke-width="0.8"/>
<line x1="379.13" y1="188.10" x2="379.13" y2="186.10" stroke="#333" stroke-width="0.8"/>
<line x1="407.43" y1="188.10" x2="407.43" y2="186.10" stroke="#333" stroke-width="0.8"/>
<line x1="435.73" y1="188.10" x2="435.73" y2="186.10" stroke="#333" stroke-width="0.8"/>
<line x1="464.03" y1="188.10" x2="464.03" y2="186.10" stroke="#333" stroke-width="0.8"/>
<line x1="492.33" y1="188.10" x2="492.33" y2="186.10" stroke="#333" stroke-width="0.8"/>
<text x="0" y="0" transform="translate(316.30 188.70) scale(1 1.15)" font-size="7" text-anchor="end" fill="#000" stroke="#000" font-weight="bold" dominant-baseline="central">0</text>
<line x1="319.70" y1="188.10" x2="321.70" y2="188.10" stroke="#333" stroke-width="0.8"/>
<text x="0" y="0" transform="translate(316.30 163.30) scale(1 1.15)" font-size="7" text-anchor="end" fill="#000" stroke="#000" font-weight="bold" dominant-baseline="central">2000</text>
<line x1="319.70" y1="162.70" x2="321.70" y2="162.70" stroke="#333" stroke-width="0.8"/>
<text x="0" y="0" transform="translate(316.30 137.90) scale(1 1.15)" font-size="7" text-anchor="end" fill="#000" stroke="#000" font-weight="bold" dominant-baseline="central">4000</text>
<line x1="319.70" y1="137.30" x2="321.70" y2="137.30" stroke="#333" stroke-width="0.8"/>
<text x="0" y="0" transform="translate(316.30 112.50) scale(1 1.15)" font-size="7" text-anchor="end" fill="#000" stroke="#000" font-weight="bold" dominant-baseline="central">6000</text>
<line x1="319.70" y1="111.90" x2="321.70" y2="111.90" stroke="#333" stroke-width="0.8"/>
<text x="0" y="0" transform="translate(316.30 87.10) scale(1 1.15)" font-size="7" text-anchor="end" fill="#000" stroke="#000" font-weight="bold" dominant-baseline="central">8000</text>
<line x1="319.70" y1="86.50" x2="321.70" y2="86.50" stroke="#333" stroke-width="0.8"/>
<text x="0" y="0" transform="translate(316.30 61.70) scale(1 1.15)" font-size="7" text-anchor="end" fill="#000" stroke="#000" font-weight="bold" dominant-baseline="central">10000</text>
<line x1="319.70" y1="61.10" x2="321.70" y2="61.10" stroke="#333" stroke-width="0.8"/>
<text x="0" y="0" transform="translate(316.30 36.30) scale(1 1.15)" font-size="7" text-anchor="end" fill="#000" stroke="#000" font-weight="bold" dominant-baseline="central">12000</text>
<line x1="319.70" y1="35.70" x2="321.70" y2="35.70" stroke="#333" stroke-width="0.8"/>
<text x="0" y="0" transform="translate(319.70 195.30) scale(1 1.15)" font-size="7" text-anchor="middle" fill="#000" stroke="#000" font-weight="bold" dominant-baseline="central">1949</text>
<text x="0" y="0" transform="translate(350.83 195.30) scale(1 1.15)" font-size="7" text-anchor="middle" fill="#000" stroke="#000" font-weight="bold" dominant-baseline="central">1960</text>
<text x="0" y="0" transform="translate(379.13 195.30) scale(1 1.15)" font-size="7" text-anchor="middle" fill="#000" stroke="#000" font-weight="bold" dominant-baseline="central">1970</text>
<text x="0" y="0" transform="translate(407.43 195.30) scale(1 1.15)" font-size="7" text-anchor="middle" fill="#000" stroke="#000" font-weight="bold" dominant-baseline="central">1980</text>
<text x="0" y="0" transform="translate(435.73 195.30) scale(1 1.15)" font-size="7" text-anchor="middle" fill="#000" stroke="#000" font-weight="bold" dominant-baseline="central">1990</text>
<text x="0" y="0" transform="translate(464.03 195.30) scale(1 1.15)" font-size="7" text-anchor="middle" fill="#000" stroke="#000" font-weight="bold" dominant-baseline="central">2000</text>
<text x="0" y="0" transform="translate(492.33 195.30) scale(1 1.15)" font-size="7" text-anchor="middle" fill="#000" stroke="#000" font-weight="bold" dominant-baseline="central">2010</text>
<text x="0" y="0" transform="translate(517.80 195.30) scale(1 1.15)" font-size="7" text-anchor="middle" fill="#000" stroke="#000" font-weight="bold" dominant-baseline="central">2019</text>
<text x="0" y="0" font-size="8.6" font-weight="bold" stroke="#000" text-anchor="middle" dominant-baseline="central" transform="translate(291.5 105.2) rotate(-90) scale(1 1.12)">P flow (Gg-P Yr<tspan dy="-3" font-size="5.5">&#8722;1</tspan><tspan dy="3">)</tspan></text>
<text x="0" y="0" transform="translate(306.50 12.90) scale(1 1.04)" font-size="12.8" text-anchor="middle" fill="#000" stroke="#000" font-weight="bold" dominant-baseline="central">(b)</text>
<rect x="326.70" y="27.50" width="15.20" height="7.20" fill="url(#gDet)"/>
<text x="0" y="0" transform="translate(344.30 31.10) scale(1 1.15)" font-size="7.1" text-anchor="start" fill="#000" stroke="#000" font-weight="bold" dominant-baseline="central">Detergents</text>
<rect x="326.70" y="36.35" width="15.20" height="7.20" fill="url(#gPes)"/>
<text x="0" y="0" transform="translate(344.30 39.95) scale(1 1.15)" font-size="7.1" text-anchor="start" fill="#000" stroke="#000" font-weight="bold" dominant-baseline="central">Pesticides</text>
<rect x="326.70" y="45.20" width="15.20" height="7.20" fill="url(#gPho)"/>
<text x="0" y="0" transform="translate(344.30 48.80) scale(1 1.15)" font-size="7.1" text-anchor="start" fill="#000" stroke="#000" font-weight="bold" dominant-baseline="central">Phosphors&amp;Other</text>
<rect x="326.70" y="54.05" width="15.20" height="7.20" fill="url(#gFeed)"/>
<text x="0" y="0" transform="translate(344.30 57.65) scale(1 1.15)" font-size="7.1" text-anchor="start" fill="#000" stroke="#000" font-weight="bold" dominant-baseline="central">Feed additive</text>
<rect x="326.70" y="62.90" width="15.20" height="7.20" fill="url(#gFerL)"/>
<text x="0" y="0" transform="translate(344.30 66.50) scale(1 1.15)" font-size="7.1" text-anchor="start" fill="#000" stroke="#000" font-weight="bold" dominant-baseline="central">Fertilizer</text>
<rect x="340.30" y="80.50" width="88.10" height="70.70" fill="#fff"/>
<rect x="363.40" y="150.26" width="2.00" height="0.94" fill="url(#gFer)"/>
<rect x="365.75" y="147.44" width="2.00" height="3.76" fill="url(#gFer)"/>
<rect x="368.10" y="149.08" width="2.00" height="2.12" fill="url(#gFer)"/>
<rect x="370.45" y="149.08" width="2.00" height="2.12" fill="url(#gFer)"/>
<rect x="372.80" y="147.44" width="2.00" height="3.76" fill="url(#gFer)"/>
<rect x="375.15" y="144.15" width="2.00" height="7.05" fill="url(#gFer)"/>
<rect x="377.50" y="136.63" width="2.00" height="14.57" fill="url(#gFer)"/>
<rect x="379.85" y="130.99" width="2.00" height="20.21" fill="url(#gFer)"/>
<rect x="382.20" y="138.04" width="2.00" height="13.16" fill="url(#gFer)"/>
<rect x="384.55" y="142.03" width="2.00" height="9.16" fill="url(#gFer)"/>
<rect x="386.90" y="135.45" width="2.00" height="15.75" fill="url(#gFer)"/>
<rect x="389.25" y="132.40" width="2.00" height="18.80" fill="url(#gFer)"/>
<rect x="389.25" y="132.40" width="2.00" height="1.40" fill="url(#gDet)"/>
<rect x="389.25" y="133.80" width="2.00" height="1.40" fill="url(#gPes)"/>
<rect x="389.25" y="135.20" width="2.00" height="0.80" fill="url(#gPho)"/>
<rect x="389.25" y="136.00" width="2.00" height="0.80" fill="url(#gFeed)"/>
<rect x="391.60" y="127.93" width="2.00" height="23.27" fill="url(#gFer)"/>
<rect x="391.60" y="127.93" width="2.00" height="1.40" fill="url(#gDet)"/>
<rect x="391.60" y="129.33" width="2.00" height="1.40" fill="url(#gPes)"/>
<rect x="391.60" y="130.73" width="2.00" height="0.80" fill="url(#gPho)"/>
<rect x="391.60" y="131.53" width="2.00" height="0.80" fill="url(#gFeed)"/>
<rect x="393.95" y="123.47" width="2.00" height="27.73" fill="url(#gFer)"/>
<rect x="393.95" y="123.47" width="2.00" height="1.40" fill="url(#gDet)"/>
<rect x="393.95" y="124.87" width="2.00" height="1.40" fill="url(#gPes)"/>
<rect x="393.95" y="126.27" width="2.00" height="0.80" fill="url(#gPho)"/>
<rect x="393.95" y="127.07" width="2.00" height="0.80" fill="url(#gFeed)"/>
<rect x="396.30" y="116.42" width="2.00" height="34.78" fill="url(#gFer)"/>
<rect x="396.30" y="116.42" width="2.00" height="1.40" fill="url(#gDet)"/>
<rect x="396.30" y="117.82" width="2.00" height="1.40" fill="url(#gPes)"/>
<rect x="396.30" y="119.22" width="2.00" height="0.80" fill="url(#gPho)"/>
<rect x="396.30" y="120.02" width="2.00" height="0.80" fill="url(#gFeed)"/>
<rect x="398.65" y="121.31" width="2.00" height="29.89" fill="url(#gFer)"/>
<rect x="398.65" y="121.31" width="2.00" height="1.40" fill="url(#gDet)"/>
<rect x="398.65" y="122.71" width="2.00" height="1.40" fill="url(#gPes)"/>
<rect x="398.65" y="124.11" width="2.00" height="0.80" fill="url(#gPho)"/>
<rect x="398.65" y="124.91" width="2.00" height="0.80" fill="url(#gFeed)"/>
<rect x="401.00" y="117.36" width="2.00" height="33.84" fill="url(#gFer)"/>
<rect x="401.00" y="117.36" width="2.00" height="1.40" fill="url(#gDet)"/>
<rect x="401.00" y="118.76" width="2.00" height="1.40" fill="url(#gPes)"/>
<rect x="401.00" y="120.16" width="2.00" height="0.80" fill="url(#gPho)"/>
<rect x="401.00" y="120.96" width="2.00" height="0.80" fill="url(#gFeed)"/>
<rect x="403.35" y="120.18" width="2.00" height="31.02" fill="url(#gFer)"/>
<rect x="403.35" y="120.18" width="2.00" height="1.40" fill="url(#gDet)"/>
<rect x="403.35" y="121.58" width="2.00" height="1.40" fill="url(#gPes)"/>
<rect x="403.35" y="122.98" width="2.00" height="0.80" fill="url(#gPho)"/>
<rect x="403.35" y="123.78" width="2.00" height="0.80" fill="url(#gFeed)"/>
<rect x="405.70" y="113.04" width="2.00" height="38.16" fill="url(#gFer)"/>
<rect x="405.70" y="113.04" width="2.00" height="1.40" fill="url(#gDet)"/>
<rect x="405.70" y="114.44" width="2.00" height="1.40" fill="url(#gPes)"/>
<rect x="405.70" y="115.84" width="2.00" height="0.80" fill="url(#gPho)"/>
<rect x="405.70" y="116.64" width="2.00" height="0.80" fill="url(#gFeed)"/>
<rect x="408.05" y="126.29" width="2.00" height="24.91" fill="url(#gFer)"/>
<rect x="408.05" y="126.29" width="2.00" height="1.40" fill="url(#gDet)"/>
<rect x="408.05" y="127.69" width="2.00" height="1.40" fill="url(#gPes)"/>
<rect x="408.05" y="129.09" width="2.00" height="0.80" fill="url(#gPho)"/>
<rect x="408.05" y="129.89" width="2.00" height="0.80" fill="url(#gFeed)"/>
<rect x="410.40" y="109.84" width="2.00" height="41.36" fill="url(#gFer)"/>
<rect x="410.40" y="109.84" width="2.00" height="1.40" fill="url(#gDet)"/>
<rect x="410.40" y="111.24" width="2.00" height="1.40" fill="url(#gPes)"/>
<rect x="410.40" y="112.64" width="2.00" height="0.80" fill="url(#gPho)"/>
<rect x="410.40" y="113.44" width="2.00" height="0.80" fill="url(#gFeed)"/>
<rect x="412.75" y="99.50" width="2.00" height="51.70" fill="url(#gFer)"/>
<rect x="412.75" y="99.50" width="2.00" height="1.40" fill="url(#gDet)"/>
<rect x="412.75" y="100.90" width="2.00" height="1.40" fill="url(#gPes)"/>
<rect x="412.75" y="102.30" width="2.00" height="0.80" fill="url(#gPho)"/>
<rect x="412.75" y="103.10" width="2.00" height="0.80" fill="url(#gFeed)"/>
<rect x="415.10" y="95.74" width="2.00" height="55.46" fill="url(#gFer)"/>
<rect x="415.10" y="95.74" width="2.00" height="1.40" fill="url(#gDet)"/>
<rect x="415.10" y="97.14" width="2.00" height="1.40" fill="url(#gPes)"/>
<rect x="415.10" y="98.54" width="2.00" height="0.80" fill="url(#gPho)"/>
<rect x="415.10" y="99.34" width="2.00" height="0.80" fill="url(#gFeed)"/>
<rect x="417.45" y="95.74" width="2.00" height="55.46" fill="url(#gFer)"/>
<rect x="417.45" y="95.74" width="2.00" height="1.40" fill="url(#gDet)"/>
<rect x="417.45" y="97.14" width="2.00" height="1.40" fill="url(#gPes)"/>
<rect x="417.45" y="98.54" width="2.00" height="0.80" fill="url(#gPho)"/>
<rect x="417.45" y="99.34" width="2.00" height="0.80" fill="url(#gFeed)"/>
<rect x="419.80" y="92.45" width="2.00" height="58.75" fill="url(#gFer)"/>
<rect x="419.80" y="92.45" width="2.00" height="1.40" fill="url(#gDet)"/>
<rect x="419.80" y="93.85" width="2.00" height="1.40" fill="url(#gPes)"/>
<rect x="419.80" y="95.25" width="2.00" height="0.80" fill="url(#gPho)"/>
<rect x="419.80" y="96.05" width="2.00" height="0.80" fill="url(#gFeed)"/>
<rect x="422.15" y="98.09" width="2.00" height="53.11" fill="url(#gFer)"/>
<rect x="422.15" y="98.09" width="2.00" height="1.40" fill="url(#gDet)"/>
<rect x="422.15" y="99.49" width="2.00" height="1.40" fill="url(#gPes)"/>
<rect x="422.15" y="100.89" width="2.00" height="0.80" fill="url(#gPho)"/>
<rect x="422.15" y="101.69" width="2.00" height="0.80" fill="url(#gFeed)"/>
<rect x="424.50" y="109.98" width="2.00" height="41.22" fill="url(#gFer)"/>
<rect x="424.50" y="109.98" width="2.00" height="1.40" fill="url(#gDet)"/>
<rect x="424.50" y="111.38" width="2.00" height="1.40" fill="url(#gPes)"/>
<rect x="424.50" y="112.78" width="2.00" height="0.80" fill="url(#gPho)"/>
<rect x="424.50" y="113.58" width="2.00" height="0.80" fill="url(#gFeed)"/>
<rect x="426.85" y="97.29" width="2.00" height="53.91" fill="url(#gFer)"/>
<rect x="426.85" y="97.29" width="2.00" height="1.40" fill="url(#gDet)"/>
<rect x="426.85" y="98.69" width="2.00" height="1.40" fill="url(#gPes)"/>
<rect x="426.85" y="100.09" width="2.00" height="0.80" fill="url(#gPho)"/>
<rect x="426.85" y="100.89" width="2.00" height="0.80" fill="url(#gFeed)"/>
<rect x="340.30" y="80.50" width="88.10" height="70.70" fill="none" stroke="#444" stroke-width="1.0"/>
<text x="0" y="0" transform="translate(336.70 151.20) scale(1 1.15)" font-size="5.6" text-anchor="end" fill="#000" stroke="#000" font-weight="bold" dominant-baseline="central">0</text>
<text x="0" y="0" transform="translate(336.70 127.70) scale(1 1.15)" font-size="5.6" text-anchor="end" fill="#000" stroke="#000" font-weight="bold" dominant-baseline="central">500</text>
<text x="0" y="0" transform="translate(336.70 104.20) scale(1 1.15)" font-size="5.6" text-anchor="end" fill="#000" stroke="#000" font-weight="bold" dominant-baseline="central">1000</text>
<text x="0" y="0" transform="translate(336.70 80.70) scale(1 1.15)" font-size="5.6" text-anchor="end" fill="#000" stroke="#000" font-weight="bold" dominant-baseline="central">1500</text>
<text x="0" y="0" transform="translate(340.30 157.30) scale(1 1.15)" font-size="5.6" text-anchor="middle" fill="#000" stroke="#000" font-weight="bold" dominant-baseline="central">1949</text>
<text x="0" y="0" transform="translate(389.65 157.30) scale(1 1.15)" font-size="5.6" text-anchor="middle" fill="#000" stroke="#000" font-weight="bold" dominant-baseline="central">1970</text>
<text x="0" y="0" transform="translate(427.00 157.30) scale(1 1.15)" font-size="5.6" text-anchor="middle" fill="#000" stroke="#000" font-weight="bold" dominant-baseline="central">1986</text>
<rect x="38.15" y="382.40" width="2.80" height="2.40" fill="url(#gRes)"/>
<rect x="38.15" y="384.80" width="2.80" height="5.60" fill="url(#gLive)"/>
<rect x="40.96" y="382.00" width="2.80" height="2.40" fill="url(#gRes)"/>
<rect x="40.96" y="384.40" width="2.80" height="6.00" fill="url(#gLive)"/>
<rect x="43.77" y="381.50" width="2.80" height="2.40" fill="url(#gRes)"/>
<rect x="43.77" y="383.90" width="2.80" height="6.50" fill="url(#gLive)"/>
<rect x="46.59" y="380.80" width="2.80" height="2.40" fill="url(#gRes)"/>
<rect x="46.59" y="383.20" width="2.80" height="7.20" fill="url(#gLive)"/>
<rect x="49.40" y="380.20" width="2.80" height="2.40" fill="url(#gRes)"/>
<rect x="49.40" y="382.60" width="2.80" height="7.80" fill="url(#gLive)"/>
<rect x="52.21" y="379.80" width="2.80" height="2.40" fill="url(#gRes)"/>
<rect x="52.21" y="382.20" width="2.80" height="8.20" fill="url(#gLive)"/>
<rect x="55.02" y="379.60" width="2.80" height="2.40" fill="url(#gRes)"/>
<rect x="55.02" y="382.00" width="2.80" height="8.40" fill="url(#gLive)"/>
<rect x="57.83" y="379.30" width="2.80" height="2.40" fill="url(#gRes)"/>
<rect x="57.83" y="381.70" width="2.80" height="8.70" fill="url(#gLive)"/>
<rect x="60.65" y="379.10" width="2.80" height="2.40" fill="url(#gRes)"/>
<rect x="60.65" y="381.50" width="2.80" height="8.90" fill="url(#gLive)"/>
<rect x="63.46" y="378.80" width="2.80" height="2.40" fill="url(#gRes)"/>
<rect x="63.46" y="381.20" width="2.80" height="9.20" fill="url(#gLive)"/>
<rect x="66.27" y="379.20" width="2.80" height="2.40" fill="url(#gRes)"/>
<rect x="66.27" y="381.60" width="2.80" height="8.80" fill="url(#gLive)"/>
<rect x="69.08" y="379.60" width="2.80" height="2.40" fill="url(#gRes)"/>
<rect x="69.08" y="382.00" width="2.80" height="8.40" fill="url(#gLive)"/>
<rect x="71.89" y="379.80" width="2.80" height="2.40" fill="url(#gRes)"/>
<rect x="71.89" y="382.20" width="2.80" height="8.20" fill="url(#gLive)"/>
<rect x="74.71" y="379.80" width="2.80" height="2.40" fill="url(#gRes)"/>
<rect x="74.71" y="382.20" width="2.80" height="6.80" fill="url(#gLive)"/>
<rect x="74.71" y="389.00" width="2.80" height="1.40" fill="url(#gCFer)"/>
<rect x="77.52" y="378.50" width="2.80" height="2.40" fill="url(#gRes)"/>
<rect x="77.52" y="380.90" width="2.80" height="8.10" fill="url(#gLive)"/>
<rect x="77.52" y="389.00" width="2.80" height="1.40" fill="url(#gCFer)"/>
<rect x="80.33" y="377.30" width="2.80" height="2.40" fill="url(#gRes)"/>
<rect x="80.33" y="379.70" width="2.80" height="8.30" fill="url(#gLive)"/>
<rect x="80.33" y="388.00" width="2.80" height="2.40" fill="url(#gCFer)"/>
<rect x="83.14" y="376.00" width="2.80" height="2.40" fill="url(#gRes)"/>
<rect x="83.14" y="378.40" width="2.80" height="8.60" fill="url(#gLive)"/>
<rect x="83.14" y="387.00" width="2.80" height="3.40" fill="url(#gCFer)"/>
<rect x="85.95" y="373.20" width="2.80" height="2.40" fill="url(#gRes)"/>
<rect x="85.95" y="375.60" width="2.80" height="8.70" fill="url(#gLive)"/>
<rect x="85.95" y="384.30" width="2.80" height="6.10" fill="url(#gCFer)"/>
<rect x="88.77" y="370.30" width="2.80" height="2.40" fill="url(#gRes)"/>
<rect x="88.77" y="372.70" width="2.80" height="12.30" fill="url(#gLive)"/>
<rect x="88.77" y="385.00" width="2.80" height="5.40" fill="url(#gCFer)"/>
<rect x="91.58" y="371.50" width="2.80" height="2.40" fill="url(#gRes)"/>
<rect x="91.58" y="373.90" width="2.80" height="11.60" fill="url(#gLive)"/>
<rect x="91.58" y="385.50" width="2.80" height="4.90" fill="url(#gCFer)"/>
<rect x="94.39" y="372.80" width="2.80" height="2.40" fill="url(#gRes)"/>
<rect x="94.39" y="375.20" width="2.80" height="12.30" fill="url(#gLive)"/>
<rect x="94.39" y="387.50" width="2.80" height="2.90" fill="url(#gCFer)"/>
<rect x="97.20" y="370.90" width="2.80" height="2.40" fill="url(#gRes)"/>
<rect x="97.20" y="373.30" width="2.80" height="11.60" fill="url(#gLive)"/>
<rect x="97.20" y="384.90" width="2.80" height="5.50" fill="url(#gCFer)"/>
<rect x="100.01" y="367.50" width="2.80" height="2.40" fill="url(#gRes)"/>
<rect x="100.01" y="369.90" width="2.80" height="12.90" fill="url(#gLive)"/>
<rect x="100.01" y="382.80" width="2.80" height="7.60" fill="url(#gCFer)"/>
<rect x="102.83" y="365.80" width="2.80" height="2.40" fill="url(#gRes)"/>
<rect x="102.83" y="368.20" width="2.80" height="13.50" fill="url(#gLive)"/>
<rect x="102.83" y="381.70" width="2.80" height="8.70" fill="url(#gCFer)"/>
<rect x="105.64" y="364.00" width="2.80" height="2.40" fill="url(#gRes)"/>
<rect x="105.64" y="366.40" width="2.80" height="14.00" fill="url(#gLive)"/>
<rect x="105.64" y="380.40" width="2.80" height="10.00" fill="url(#gCFer)"/>
<rect x="108.45" y="363.60" width="2.80" height="2.40" fill="url(#gRes)"/>
<rect x="108.45" y="366.00" width="2.80" height="14.70" fill="url(#gLive)"/>
<rect x="108.45" y="380.70" width="2.80" height="9.70" fill="url(#gCFer)"/>
<rect x="111.26" y="364.10" width="2.80" height="2.40" fill="url(#gRes)"/>
<rect x="111.26" y="366.50" width="2.80" height="13.60" fill="url(#gLive)"/>
<rect x="111.26" y="380.10" width="2.80" height="10.30" fill="url(#gCFer)"/>
<rect x="114.07" y="365.10" width="2.80" height="2.40" fill="url(#gRes)"/>
<rect x="114.07" y="367.50" width="2.80" height="11.70" fill="url(#gLive)"/>
<rect x="114.07" y="379.20" width="2.80" height="11.20" fill="url(#gCFer)"/>
<rect x="116.89" y="363.60" width="2.80" height="2.40" fill="url(#gRes)"/>
<rect x="116.89" y="366.00" width="2.80" height="12.30" fill="url(#gLive)"/>
<rect x="116.89" y="378.30" width="2.80" height="12.10" fill="url(#gCFer)"/>
<rect x="119.70" y="366.30" width="2.80" height="2.40" fill="url(#gRes)"/>
<rect x="119.70" y="368.70" width="2.80" height="13.30" fill="url(#gLive)"/>
<rect x="119.70" y="382.00" width="2.80" height="8.40" fill="url(#gCFer)"/>
<rect x="122.51" y="361.80" width="2.80" height="2.40" fill="url(#gRes)"/>
<rect x="122.51" y="364.20" width="2.80" height="13.50" fill="url(#gLive)"/>
<rect x="122.51" y="377.70" width="2.80" height="12.70" fill="url(#gCFer)"/>
<rect x="125.32" y="358.10" width="2.80" height="2.40" fill="url(#gRes)"/>
<rect x="125.32" y="360.50" width="2.80" height="12.80" fill="url(#gLive)"/>
<rect x="125.32" y="373.30" width="2.80" height="17.10" fill="url(#gCFer)"/>
<rect x="128.13" y="357.20" width="2.80" height="2.40" fill="url(#gRes)"/>
<rect x="128.13" y="359.60" width="2.80" height="13.20" fill="url(#gLive)"/>
<rect x="128.13" y="372.80" width="2.80" height="17.60" fill="url(#gCFer)"/>
<rect x="130.95" y="356.20" width="2.80" height="2.40" fill="url(#gRes)"/>
<rect x="130.95" y="358.60" width="2.80" height="14.20" fill="url(#gLive)"/>
<rect x="130.95" y="372.80" width="2.80" height="17.60" fill="url(#gCFer)"/>
<rect x="133.76" y="353.50" width="2.80" height="2.40" fill="url(#gRes)"/>
<rect x="133.76" y="355.90" width="2.80" height="14.10" fill="url(#gLive)"/>
<rect x="133.76" y="370.00" width="2.80" height="20.40" fill="url(#gCFer)"/>
<rect x="136.57" y="353.50" width="2.80" height="2.40" fill="url(#gRes)"/>
<rect x="136.57" y="355.90" width="2.80" height="16.00" fill="url(#gLive)"/>
<rect x="136.57" y="371.90" width="2.80" height="18.50" fill="url(#gCFer)"/>
<rect x="139.38" y="356.20" width="2.80" height="2.40" fill="url(#gRes)"/>
<rect x="139.38" y="358.60" width="2.80" height="16.00" fill="url(#gLive)"/>
<rect x="139.38" y="374.60" width="2.80" height="15.80" fill="url(#gCFer)"/>
<rect x="142.19" y="356.80" width="2.80" height="2.40" fill="url(#gRes)"/>
<rect x="142.19" y="359.20" width="2.80" height="14.50" fill="url(#gLive)"/>
<rect x="142.19" y="373.70" width="2.80" height="16.70" fill="url(#gCFer)"/>
<rect x="145.01" y="348.90" width="2.80" height="2.40" fill="url(#gRes)"/>
<rect x="145.01" y="351.30" width="2.80" height="16.00" fill="url(#gLive)"/>
<rect x="145.01" y="367.30" width="2.80" height="23.10" fill="url(#gCFer)"/>
<rect x="147.82" y="344.30" width="2.80" height="2.40" fill="url(#gRes)"/>
<rect x="147.82" y="346.70" width="2.80" height="17.80" fill="url(#gLive)"/>
<rect x="147.82" y="364.50" width="2.80" height="25.90" fill="url(#gCFer)"/>
<rect x="150.63" y="343.40" width="2.80" height="2.40" fill="url(#gRes)"/>
<rect x="150.63" y="345.80" width="2.80" height="16.90" fill="url(#gLive)"/>
<rect x="150.63" y="362.70" width="2.80" height="27.70" fill="url(#gCFer)"/>
<rect x="153.44" y="343.40" width="2.80" height="2.40" fill="url(#gRes)"/>
<rect x="153.44" y="345.80" width="2.80" height="15.00" fill="url(#gLive)"/>
<rect x="153.44" y="360.80" width="2.80" height="29.60" fill="url(#gCFer)"/>
<rect x="156.25" y="337.00" width="2.80" height="2.40" fill="url(#gRes)"/>
<rect x="156.25" y="339.40" width="2.80" height="15.00" fill="url(#gLive)"/>
<rect x="156.25" y="354.40" width="2.80" height="36.00" fill="url(#gCFer)"/>
<rect x="159.07" y="334.20" width="2.80" height="2.40" fill="url(#gRes)"/>
<rect x="159.07" y="336.60" width="2.80" height="16.00" fill="url(#gLive)"/>
<rect x="159.07" y="352.60" width="2.80" height="37.80" fill="url(#gCFer)"/>
<rect x="161.88" y="340.60" width="2.80" height="2.40" fill="url(#gRes)"/>
<rect x="161.88" y="343.00" width="2.80" height="16.90" fill="url(#gLive)"/>
<rect x="161.88" y="359.90" width="2.80" height="30.50" fill="url(#gCFer)"/>
<rect x="164.69" y="329.20" width="2.80" height="2.40" fill="url(#gRes)"/>
<rect x="164.69" y="331.60" width="2.80" height="18.30" fill="url(#gLive)"/>
<rect x="164.69" y="349.90" width="2.80" height="40.50" fill="url(#gCFer)"/>
<rect x="167.50" y="315.40" width="2.80" height="2.40" fill="url(#gRes)"/>
<rect x="167.50" y="317.80" width="2.80" height="19.40" fill="url(#gLive)"/>
<rect x="167.50" y="337.20" width="2.80" height="53.20" fill="url(#gCFer)"/>
<rect x="170.31" y="320.00" width="2.80" height="2.40" fill="url(#gRes)"/>
<rect x="170.31" y="322.40" width="2.80" height="17.60" fill="url(#gLive)"/>
<rect x="170.31" y="340.00" width="2.80" height="50.40" fill="url(#gCFer)"/>
<rect x="173.13" y="313.75" width="2.80" height="2.40" fill="url(#gRes)"/>
<rect x="173.13" y="316.15" width="2.80" height="18.85" fill="url(#gLive)"/>
<rect x="173.13" y="335.00" width="2.80" height="55.40" fill="url(#gCFer)"/>
<rect x="175.94" y="313.75" width="2.80" height="2.40" fill="url(#gRes)"/>
<rect x="175.94" y="316.15" width="2.80" height="20.10" fill="url(#gLive)"/>
<rect x="175.94" y="336.25" width="2.80" height="54.15" fill="url(#gCFer)"/>
<rect x="178.75" y="315.00" width="2.80" height="2.40" fill="url(#gRes)"/>
<rect x="178.75" y="317.40" width="2.80" height="21.35" fill="url(#gLive)"/>
<rect x="178.75" y="338.75" width="2.80" height="51.65" fill="url(#gCFer)"/>
<rect x="181.56" y="323.75" width="2.80" height="2.40" fill="url(#gRes)"/>
<rect x="181.56" y="326.15" width="2.80" height="16.35" fill="url(#gLive)"/>
<rect x="181.56" y="342.50" width="2.80" height="47.90" fill="url(#gCFer)"/>
<rect x="184.37" y="320.30" width="2.80" height="2.40" fill="url(#gRes)"/>
<rect x="184.37" y="322.70" width="2.80" height="16.00" fill="url(#gLive)"/>
<rect x="184.37" y="338.70" width="2.80" height="51.70" fill="url(#gCFer)"/>
<rect x="187.19" y="312.80" width="2.80" height="2.40" fill="url(#gRes)"/>
<rect x="187.19" y="315.20" width="2.80" height="16.10" fill="url(#gLive)"/>
<rect x="187.19" y="331.30" width="2.80" height="59.10" fill="url(#gCFer)"/>
<rect x="190.00" y="310.20" width="2.80" height="2.40" fill="url(#gRes)"/>
<rect x="190.00" y="312.60" width="2.80" height="16.20" fill="url(#gLive)"/>
<rect x="190.00" y="328.80" width="2.80" height="61.60" fill="url(#gCFer)"/>
<rect x="192.81" y="296.00" width="2.80" height="2.40" fill="url(#gRes)"/>
<rect x="192.81" y="298.40" width="2.80" height="16.50" fill="url(#gLive)"/>
<rect x="192.81" y="314.90" width="2.80" height="75.50" fill="url(#gCFer)"/>
<rect x="195.62" y="298.80" width="2.80" height="2.40" fill="url(#gRes)"/>
<rect x="195.62" y="301.20" width="2.80" height="16.10" fill="url(#gLive)"/>
<rect x="195.62" y="317.30" width="2.80" height="73.10" fill="url(#gCFer)"/>
<rect x="198.43" y="300.00" width="2.80" height="2.40" fill="url(#gRes)"/>
<rect x="198.43" y="302.40" width="2.80" height="16.60" fill="url(#gLive)"/>
<rect x="198.43" y="319.00" width="2.80" height="71.40" fill="url(#gCFer)"/>
<rect x="201.25" y="304.80" width="2.80" height="2.40" fill="url(#gRes)"/>
<rect x="201.25" y="307.20" width="2.80" height="16.70" fill="url(#gLive)"/>
<rect x="201.25" y="323.90" width="2.80" height="66.50" fill="url(#gCFer)"/>
<rect x="204.06" y="297.30" width="2.80" height="2.40" fill="url(#gRes)"/>
<rect x="204.06" y="299.70" width="2.80" height="16.80" fill="url(#gLive)"/>
<rect x="204.06" y="316.50" width="2.80" height="73.90" fill="url(#gCFer)"/>
<rect x="206.87" y="289.70" width="2.80" height="2.40" fill="url(#gRes)"/>
<rect x="206.87" y="292.10" width="2.80" height="17.90" fill="url(#gLive)"/>
<rect x="206.87" y="310.00" width="2.80" height="80.40" fill="url(#gCFer)"/>
<rect x="209.68" y="294.80" width="2.80" height="2.40" fill="url(#gRes)"/>
<rect x="209.68" y="297.20" width="2.80" height="18.50" fill="url(#gLive)"/>
<rect x="209.68" y="315.70" width="2.80" height="74.70" fill="url(#gCFer)"/>
<rect x="212.49" y="298.20" width="2.80" height="2.40" fill="url(#gRes)"/>
<rect x="212.49" y="300.60" width="2.80" height="18.40" fill="url(#gLive)"/>
<rect x="212.49" y="319.00" width="2.80" height="71.40" fill="url(#gCFer)"/>
<rect x="215.31" y="269.50" width="2.80" height="2.40" fill="url(#gRes)"/>
<rect x="215.31" y="271.90" width="2.80" height="19.10" fill="url(#gLive)"/>
<rect x="215.31" y="291.00" width="2.80" height="99.40" fill="url(#gCFer)"/>
<rect x="218.12" y="290.10" width="2.80" height="2.40" fill="url(#gRes)"/>
<rect x="218.12" y="292.50" width="2.80" height="14.10" fill="url(#gLive)"/>
<rect x="218.12" y="306.60" width="2.80" height="83.80" fill="url(#gCFer)"/>
<rect x="220.93" y="293.60" width="2.80" height="2.40" fill="url(#gRes)"/>
<rect x="220.93" y="296.00" width="2.80" height="14.80" fill="url(#gLive)"/>
<rect x="220.93" y="310.80" width="2.80" height="79.60" fill="url(#gCFer)"/>
<rect x="223.74" y="297.00" width="2.80" height="2.40" fill="url(#gRes)"/>
<rect x="223.74" y="299.40" width="2.80" height="16.30" fill="url(#gLive)"/>
<rect x="223.74" y="315.70" width="2.80" height="74.70" fill="url(#gCFer)"/>
<rect x="226.55" y="292.00" width="2.80" height="2.40" fill="url(#gRes)"/>
<rect x="226.55" y="294.40" width="2.80" height="13.10" fill="url(#gLive)"/>
<rect x="226.55" y="307.50" width="2.80" height="82.90" fill="url(#gCFer)"/>
<rect x="229.37" y="313.90" width="2.80" height="2.40" fill="url(#gRes)"/>
<rect x="229.37" y="316.30" width="2.80" height="14.20" fill="url(#gLive)"/>
<rect x="229.37" y="330.50" width="2.80" height="59.90" fill="url(#gCFer)"/>
<rect x="232.18" y="328.00" width="2.80" height="2.40" fill="url(#gRes)"/>
<rect x="232.18" y="330.40" width="2.80" height="14.00" fill="url(#gLive)"/>
<rect x="232.18" y="344.40" width="2.80" height="46.00" fill="url(#gCFer)"/>
<rect x="234.99" y="326.70" width="2.80" height="2.40" fill="url(#gRes)"/>
<rect x="234.99" y="329.10" width="2.80" height="12.00" fill="url(#gLive)"/>
<rect x="234.99" y="341.10" width="2.80" height="49.30" fill="url(#gCFer)"/>
<polyline points="38.00,380.50 42.21,380.10 45.02,379.60 47.84,378.80 50.65,378.30 53.46,377.90 56.27,377.50 59.08,376.90 61.90,376.30 64.71,376.00 67.52,376.40 70.33,377.00 73.14,377.50 75.96,377.90 78.77,376.00 81.58,373.50 84.39,370.90 87.20,368.10 90.02,368.40 92.83,369.60 95.64,368.40 98.45,365.80 101.26,362.50 104.08,361.70 106.89,360.50 109.70,359.40 112.51,359.90 115.32,360.80 118.14,360.80 120.95,361.80 123.76,357.20 126.57,355.30 129.38,353.50 132.20,351.70 135.01,348.90 137.82,348.00 140.63,349.80 143.44,351.70 146.26,343.40 149.07,340.60 151.88,338.80 154.69,338.40 157.50,333.30 160.32,329.60 163.13,334.20 165.94,326.80 168.75,310.20 171.56,313.75 174.38,307.50 177.19,308.75 180.00,311.25 182.81,314.50 185.62,311.50 188.44,305.50 191.25,303.00 194.06,289.00 196.87,291.50 199.68,293.60 202.50,296.20 205.31,288.70 208.12,281.00 210.93,285.50 213.74,288.50 216.56,262.00 219.37,282.20 222.18,285.20 224.99,287.20 227.80,283.40 230.62,303.70 233.43,320.50 236.24,319.20" fill="none" stroke="#111" stroke-width="1.2" stroke-linejoin="round"/>
<line x1="216.60" y1="227.50" x2="216.60" y2="261.00" stroke="#333" stroke-width="1.1" stroke-dasharray="1.1,3.6"/>
<text x="0" y="0" transform="translate(204.30 257.00) scale(1 1.15)" font-size="7" text-anchor="middle" fill="#000" stroke="#000" font-weight="bold" dominant-baseline="central">2012</text>
<rect x="38.00" y="225.70" width="199.80" height="164.70" fill="none" stroke="#555" stroke-width="1.1"/>
<line x1="69.19" y1="390.40" x2="69.19" y2="388.40" stroke="#333" stroke-width="0.8"/>
<line x1="97.53" y1="390.40" x2="97.53" y2="388.40" stroke="#333" stroke-width="0.8"/>
<line x1="125.89" y1="390.40" x2="125.89" y2="388.40" stroke="#333" stroke-width="0.8"/>
<line x1="154.24" y1="390.40" x2="154.24" y2="388.40" stroke="#333" stroke-width="0.8"/>
<line x1="182.59" y1="390.40" x2="182.59" y2="388.40" stroke="#333" stroke-width="0.8"/>
<line x1="210.94" y1="390.40" x2="210.94" y2="388.40" stroke="#333" stroke-width="0.8"/>
<text x="0" y="0" transform="translate(34.00 391.00) scale(1 1.15)" font-size="7" text-anchor="end" fill="#000" stroke="#000" font-weight="bold" dominant-baseline="central">0</text>
<text x="0" y="0" transform="translate(34.00 364.55) scale(1 1.15)" font-size="7" text-anchor="end" fill="#000" stroke="#000" font-weight="bold" dominant-baseline="central">2000</text>
<text x="0" y="0" transform="translate(34.00 338.10) scale(1 1.15)" font-size="7" text-anchor="end" fill="#000" stroke="#000" font-weight="bold" dominant-baseline="central">4000</text>
<text x="0" y="0" transform="translate(34.00 311.65) scale(1 1.15)" font-size="7" text-anchor="end" fill="#000" stroke="#000" font-weight="bold" dominant-baseline="central">6000</text>
<text x="0" y="0" transform="translate(34.00 285.20) scale(1 1.15)" font-size="7" text-anchor="end" fill="#000" stroke="#000" font-weight="bold" dominant-baseline="central">8000</text>
<text x="0" y="0" transform="translate(34.00 258.75) scale(1 1.15)" font-size="7" text-anchor="end" fill="#000" stroke="#000" font-weight="bold" dominant-baseline="central">10000</text>
<text x="0" y="0" transform="translate(34.00 232.30) scale(1 1.15)" font-size="7" text-anchor="end" fill="#000" stroke="#000" font-weight="bold" dominant-baseline="central">12000</text>
<text x="0" y="0" transform="translate(38.60 397.30) scale(1 1.15)" font-size="7" text-anchor="middle" fill="#000" stroke="#000" font-weight="bold" dominant-baseline="central">1949</text>
<text x="0" y="0" transform="translate(69.78 397.30) scale(1 1.15)" font-size="7" text-anchor="middle" fill="#000" stroke="#000" font-weight="bold" dominant-baseline="central">1960</text>
<text x="0" y="0" transform="translate(98.13 397.30) scale(1 1.15)" font-size="7" text-anchor="middle" fill="#000" stroke="#000" font-weight="bold" dominant-baseline="central">1970</text>
<text x="0" y="0" transform="translate(126.48 397.30) scale(1 1.15)" font-size="7" text-anchor="middle" fill="#000" stroke="#000" font-weight="bold" dominant-baseline="central">1980</text>
<text x="0" y="0" transform="translate(154.84 397.30) scale(1 1.15)" font-size="7" text-anchor="middle" fill="#000" stroke="#000" font-weight="bold" dominant-baseline="central">1990</text>
<text x="0" y="0" transform="translate(183.19 397.30) scale(1 1.15)" font-size="7" text-anchor="middle" fill="#000" stroke="#000" font-weight="bold" dominant-baseline="central">2000</text>
<text x="0" y="0" transform="translate(211.53 397.30) scale(1 1.15)" font-size="7" text-anchor="middle" fill="#000" stroke="#000" font-weight="bold" dominant-baseline="central">2010</text>
<text x="0" y="0" transform="translate(237.05 397.30) scale(1 1.15)" font-size="7" text-anchor="middle" fill="#000" stroke="#000" font-weight="bold" dominant-baseline="central">2019</text>
<text x="0" y="0" font-size="8.6" font-weight="bold" stroke="#000" text-anchor="middle" dominant-baseline="central" transform="translate(11.0 307.7) rotate(-90) scale(1 1.12)">P flow to agriculture(Gg-P Yr<tspan dy="-3" font-size="5.5">&#8722;1</tspan><tspan dy="3">)</tspan></text>
<text x="0" y="0" transform="translate(26.20 214.60) scale(1 1.04)" font-size="12.8" text-anchor="middle" fill="#000" stroke="#000" font-weight="bold" dominant-baseline="central">(c)</text>
<line x1="45.80" y1="235.70" x2="64.50" y2="235.70" stroke="#111" stroke-width="1.2"/>
<text x="0" y="0" transform="translate(66.80 235.70) scale(1 1.15)" font-size="8.85" text-anchor="start" fill="#000" stroke="#000" font-weight="bold" dominant-baseline="central">Total</text>
<rect x="45.80" y="242.10" width="17.80" height="8.80" fill="url(#gRes)" stroke="#555" stroke-width="0.4"/>
<text x="0" y="0" transform="translate(66.80 246.50) scale(1 1.15)" font-size="8.85" text-anchor="start" fill="#000" stroke="#000" font-weight="bold" dominant-baseline="central">Resident consumption</text>
<rect x="45.80" y="252.90" width="17.80" height="8.80" fill="url(#gLive)" stroke="#555" stroke-width="0.4"/>
<text x="0" y="0" transform="translate(66.80 257.30) scale(1 1.15)" font-size="8.85" text-anchor="start" fill="#000" stroke="#000" font-weight="bold" dominant-baseline="central">Livestock and poultry</text>
<rect x="45.80" y="263.70" width="17.80" height="8.80" fill="url(#gCFer)" stroke="#555" stroke-width="0.4"/>
<text x="0" y="0" transform="translate(66.80 268.10) scale(1 1.15)" font-size="8.85" text-anchor="start" fill="#000" stroke="#000" font-weight="bold" dominant-baseline="central">Fertilizer</text>
<rect x="320.45" y="370.10" width="2.85" height="5.20" fill="url(#gFeedD)"/>
<rect x="320.45" y="375.30" width="2.85" height="15.00" fill="url(#gPas)"/>
<rect x="323.27" y="366.80" width="2.85" height="6.60" fill="url(#gFeedD)"/>
<rect x="323.27" y="373.40" width="2.85" height="16.90" fill="url(#gPas)"/>
<rect x="326.09" y="364.50" width="2.85" height="7.50" fill="url(#gFeedD)"/>
<rect x="326.09" y="372.00" width="2.85" height="18.30" fill="url(#gPas)"/>
<rect x="328.91" y="361.70" width="2.85" height="8.90" fill="url(#gFeedD)"/>
<rect x="328.91" y="370.60" width="2.85" height="19.70" fill="url(#gPas)"/>
<rect x="331.73" y="359.80" width="2.85" height="9.40" fill="url(#gFeedD)"/>
<rect x="331.73" y="369.20" width="2.85" height="21.10" fill="url(#gPas)"/>
<rect x="334.54" y="357.50" width="2.85" height="10.70" fill="url(#gFeedD)"/>
<rect x="334.54" y="368.20" width="2.85" height="22.10" fill="url(#gPas)"/>
<rect x="337.36" y="359.20" width="2.85" height="8.60" fill="url(#gFeedD)"/>
<rect x="337.36" y="367.80" width="2.85" height="22.50" fill="url(#gPas)"/>
<rect x="340.18" y="359.50" width="2.85" height="8.70" fill="url(#gFeedD)"/>
<rect x="340.18" y="368.20" width="2.85" height="22.10" fill="url(#gPas)"/>
<rect x="343.00" y="354.70" width="2.85" height="13.50" fill="url(#gFeedD)"/>
<rect x="343.00" y="368.20" width="2.85" height="22.10" fill="url(#gPas)"/>
<rect x="345.82" y="357.00" width="2.85" height="12.60" fill="url(#gFeedD)"/>
<rect x="345.82" y="369.60" width="2.85" height="20.70" fill="url(#gPas)"/>
<rect x="348.64" y="358.40" width="2.85" height="12.20" fill="url(#gFeedD)"/>
<rect x="348.64" y="370.60" width="2.85" height="19.70" fill="url(#gPas)"/>
<rect x="351.46" y="365.00" width="2.85" height="5.10" fill="url(#gFeedD)"/>
<rect x="351.46" y="370.10" width="2.85" height="20.20" fill="url(#gPas)"/>
<rect x="354.28" y="366.40" width="2.85" height="4.20" fill="url(#gFeedD)"/>
<rect x="354.28" y="370.60" width="2.85" height="19.70" fill="url(#gPas)"/>
<rect x="357.10" y="361.60" width="2.85" height="8.60" fill="url(#gFeedD)"/>
<rect x="357.10" y="370.20" width="2.85" height="20.10" fill="url(#gPas)"/>
<rect x="359.92" y="355.40" width="2.85" height="13.20" fill="url(#gFeedD)"/>
<rect x="359.92" y="368.60" width="2.85" height="21.70" fill="url(#gPas)"/>
<rect x="362.73" y="352.00" width="2.85" height="15.50" fill="url(#gFeedD)"/>
<rect x="362.73" y="367.50" width="2.85" height="22.80" fill="url(#gPas)"/>
<rect x="365.55" y="349.10" width="2.85" height="17.20" fill="url(#gFeedD)"/>
<rect x="365.55" y="366.30" width="2.85" height="24.00" fill="url(#gPas)"/>
<rect x="368.37" y="346.80" width="2.85" height="18.90" fill="url(#gFeedD)"/>
<rect x="368.37" y="365.70" width="2.85" height="24.60" fill="url(#gPas)"/>
<rect x="371.19" y="346.60" width="2.85" height="18.60" fill="url(#gFeedD)"/>
<rect x="371.19" y="365.20" width="2.85" height="25.10" fill="url(#gPas)"/>
<rect x="374.01" y="347.00" width="2.85" height="17.90" fill="url(#gFeedD)"/>
<rect x="374.01" y="364.90" width="2.85" height="25.40" fill="url(#gPas)"/>
<rect x="376.83" y="347.00" width="2.85" height="17.60" fill="url(#gFeedD)"/>
<rect x="376.83" y="364.60" width="2.85" height="25.70" fill="url(#gPas)"/>
<rect x="379.65" y="343.60" width="2.85" height="20.40" fill="url(#gFeedD)"/>
<rect x="379.65" y="364.00" width="2.85" height="26.30" fill="url(#gPas)"/>
<rect x="382.47" y="339.70" width="2.85" height="23.70" fill="url(#gFeedD)"/>
<rect x="382.47" y="363.40" width="2.85" height="26.90" fill="url(#gPas)"/>
<rect x="385.29" y="338.50" width="2.85" height="24.60" fill="url(#gFeedD)"/>
<rect x="385.29" y="363.10" width="2.85" height="27.20" fill="url(#gPas)"/>
<rect x="388.11" y="338.20" width="2.85" height="24.70" fill="url(#gFeedD)"/>
<rect x="388.11" y="362.90" width="2.85" height="27.40" fill="url(#gPas)"/>
<rect x="390.92" y="338.20" width="2.85" height="24.70" fill="url(#gFeedD)"/>
<rect x="390.92" y="362.90" width="2.85" height="27.40" fill="url(#gPas)"/>
<rect x="393.74" y="337.00" width="2.85" height="25.70" fill="url(#gFeedD)"/>
<rect x="393.74" y="362.70" width="2.85" height="27.60" fill="url(#gPas)"/>
<rect x="396.56" y="336.90" width="2.85" height="25.50" fill="url(#gFeedD)"/>
<rect x="396.56" y="362.40" width="2.85" height="27.90" fill="url(#gPas)"/>
<rect x="399.38" y="336.90" width="2.85" height="25.10" fill="url(#gFeedD)"/>
<rect x="399.38" y="362.00" width="2.85" height="28.30" fill="url(#gPas)"/>
<rect x="402.20" y="336.10" width="2.85" height="25.10" fill="url(#gFeedD)"/>
<rect x="402.20" y="361.20" width="2.85" height="29.10" fill="url(#gPas)"/>
<rect x="405.02" y="332.00" width="2.85" height="29.20" fill="url(#gFeedD)"/>
<rect x="405.02" y="361.20" width="2.85" height="29.10" fill="url(#gPas)"/>
<rect x="407.84" y="331.70" width="2.85" height="29.30" fill="url(#gFeedD)"/>
<rect x="407.84" y="361.00" width="2.85" height="29.30" fill="url(#gPas)"/>
<rect x="410.66" y="331.00" width="2.85" height="29.50" fill="url(#gFeedD)"/>
<rect x="410.66" y="360.50" width="2.85" height="29.80" fill="url(#gPas)"/>
<rect x="413.48" y="329.50" width="2.85" height="30.30" fill="url(#gFeedD)"/>
<rect x="413.48" y="359.80" width="2.85" height="30.50" fill="url(#gPas)"/>
<rect x="416.30" y="328.70" width="2.85" height="30.30" fill="url(#gFeedD)"/>
<rect x="416.30" y="359.00" width="2.85" height="31.30" fill="url(#gPas)"/>
<rect x="419.11" y="324.30" width="2.85" height="33.20" fill="url(#gFeedD)"/>
<rect x="419.11" y="357.50" width="2.85" height="32.80" fill="url(#gPas)"/>
<rect x="421.93" y="319.90" width="2.85" height="36.20" fill="url(#gFeedD)"/>
<rect x="421.93" y="356.10" width="2.85" height="34.20" fill="url(#gPas)"/>
<rect x="424.75" y="317.30" width="2.85" height="38.20" fill="url(#gFeedD)"/>
<rect x="424.75" y="355.50" width="2.85" height="34.80" fill="url(#gPas)"/>
<rect x="427.57" y="314.50" width="2.85" height="38.50" fill="url(#gFeedD)"/>
<rect x="427.57" y="353.00" width="2.85" height="37.30" fill="url(#gPas)"/>
<rect x="430.39" y="310.40" width="2.85" height="40.60" fill="url(#gFeedD)"/>
<rect x="430.39" y="351.00" width="2.85" height="39.30" fill="url(#gPas)"/>
<rect x="433.21" y="307.10" width="2.85" height="42.30" fill="url(#gFeedD)"/>
<rect x="433.21" y="349.40" width="2.85" height="40.90" fill="url(#gPas)"/>
<rect x="436.03" y="304.50" width="2.85" height="43.70" fill="url(#gFeedD)"/>
<rect x="436.03" y="348.20" width="2.85" height="42.10" fill="url(#gPas)"/>
<rect x="438.85" y="300.30" width="2.85" height="46.60" fill="url(#gFeedD)"/>
<rect x="438.85" y="346.90" width="2.85" height="43.40" fill="url(#gPas)"/>
<rect x="441.67" y="294.60" width="2.85" height="49.80" fill="url(#gFeedD)"/>
<rect x="441.67" y="344.40" width="2.85" height="45.90" fill="url(#gPas)"/>
<rect x="444.49" y="287.40" width="2.85" height="53.90" fill="url(#gFeedD)"/>
<rect x="444.49" y="341.30" width="2.85" height="49.00" fill="url(#gPas)"/>
<rect x="447.30" y="274.60" width="2.85" height="60.00" fill="url(#gFeedD)"/>
<rect x="447.30" y="334.60" width="2.85" height="55.70" fill="url(#gPas)"/>
<rect x="450.12" y="275.30" width="2.85" height="60.50" fill="url(#gFeedD)"/>
<rect x="450.12" y="335.80" width="2.85" height="54.50" fill="url(#gPas)"/>
<rect x="452.94" y="281.70" width="2.85" height="56.80" fill="url(#gFeedD)"/>
<rect x="452.94" y="338.50" width="2.85" height="51.80" fill="url(#gPas)"/>
<rect x="455.76" y="264.30" width="2.85" height="65.90" fill="url(#gFeedD)"/>
<rect x="455.76" y="330.20" width="2.85" height="60.10" fill="url(#gPas)"/>
<rect x="458.58" y="261.00" width="2.85" height="68.20" fill="url(#gFeedD)"/>
<rect x="458.58" y="329.20" width="2.85" height="61.10" fill="url(#gPas)"/>
<rect x="461.40" y="255.70" width="2.85" height="71.50" fill="url(#gFeedD)"/>
<rect x="461.40" y="327.20" width="2.85" height="63.10" fill="url(#gPas)"/>
<rect x="464.22" y="257.40" width="2.85" height="71.60" fill="url(#gFeedD)"/>
<rect x="464.22" y="329.00" width="2.85" height="61.30" fill="url(#gPas)"/>
<rect x="467.04" y="256.30" width="2.85" height="73.70" fill="url(#gFeedD)"/>
<rect x="467.04" y="330.00" width="2.85" height="60.30" fill="url(#gPas)"/>
<rect x="469.86" y="254.60" width="2.85" height="73.70" fill="url(#gFeedD)"/>
<rect x="469.86" y="328.30" width="2.85" height="62.00" fill="url(#gPas)"/>
<rect x="472.68" y="251.10" width="2.85" height="75.90" fill="url(#gFeedD)"/>
<rect x="472.68" y="327.00" width="2.85" height="63.30" fill="url(#gPas)"/>
<rect x="475.49" y="248.20" width="2.85" height="77.50" fill="url(#gFeedD)"/>
<rect x="475.49" y="325.70" width="2.85" height="64.60" fill="url(#gPas)"/>
<rect x="478.31" y="246.50" width="2.85" height="81.40" fill="url(#gFeedD)"/>
<rect x="478.31" y="327.90" width="2.85" height="62.40" fill="url(#gPas)"/>
<rect x="481.13" y="248.00" width="2.85" height="81.70" fill="url(#gFeedD)"/>
<rect x="481.13" y="329.70" width="2.85" height="60.60" fill="url(#gPas)"/>
<rect x="483.95" y="247.80" width="2.85" height="79.00" fill="url(#gFeedD)"/>
<rect x="483.95" y="326.80" width="2.85" height="63.50" fill="url(#gPas)"/>
<rect x="486.77" y="242.40" width="2.85" height="84.60" fill="url(#gFeedD)"/>
<rect x="486.77" y="327.00" width="2.85" height="63.30" fill="url(#gPas)"/>
<rect x="489.59" y="237.50" width="2.85" height="88.20" fill="url(#gFeedD)"/>
<rect x="489.59" y="325.70" width="2.85" height="64.60" fill="url(#gPas)"/>
<rect x="492.41" y="235.90" width="2.85" height="90.00" fill="url(#gFeedD)"/>
<rect x="492.41" y="325.90" width="2.85" height="64.40" fill="url(#gPas)"/>
<rect x="495.23" y="235.90" width="2.85" height="91.10" fill="url(#gFeedD)"/>
<rect x="495.23" y="327.00" width="2.85" height="63.30" fill="url(#gPas)"/>
<rect x="498.05" y="232.10" width="2.85" height="93.60" fill="url(#gFeedD)"/>
<rect x="498.05" y="325.70" width="2.85" height="64.60" fill="url(#gPas)"/>
<rect x="500.87" y="237.10" width="2.85" height="95.90" fill="url(#gFeedD)"/>
<rect x="500.87" y="333.00" width="2.85" height="57.30" fill="url(#gPas)"/>
<rect x="503.68" y="242.30" width="2.85" height="89.30" fill="url(#gFeedD)"/>
<rect x="503.68" y="331.60" width="2.85" height="58.70" fill="url(#gPas)"/>
<rect x="506.50" y="243.40" width="2.85" height="88.00" fill="url(#gFeedD)"/>
<rect x="506.50" y="331.40" width="2.85" height="58.90" fill="url(#gPas)"/>
<rect x="509.32" y="248.00" width="2.85" height="86.40" fill="url(#gFeedD)"/>
<rect x="509.32" y="334.40" width="2.85" height="55.90" fill="url(#gPas)"/>
<rect x="512.14" y="245.70" width="2.85" height="86.70" fill="url(#gFeedD)"/>
<rect x="512.14" y="332.40" width="2.85" height="57.90" fill="url(#gPas)"/>
<rect x="514.96" y="245.10" width="2.85" height="85.20" fill="url(#gFeedD)"/>
<rect x="514.96" y="330.30" width="2.85" height="60.00" fill="url(#gPas)"/>
<rect x="517.78" y="260.70" width="1.62" height="69.00" fill="url(#gFeedD)"/>
<rect x="517.78" y="329.70" width="1.62" height="60.60" fill="url(#gPas)"/>
<polyline points="320.00,370.80 326.40,365.90 332.00,362.20 334.90,361.20 340.50,361.20 344.20,358.40 346.10,357.90 348.90,360.70 351.70,364.00 354.50,365.30 357.30,363.60 360.70,358.30 366.50,352.50 372.20,350.20 378.00,349.70 383.70,345.60 389.50,343.30 395.00,342.80 399.40,342.00 406.80,338.30 411.20,337.90 417.80,335.40 423.00,330.20 427.50,325.80 433.50,319.00 439.70,308.40 446.00,299.00 449.00,295.40 451.30,297.70 453.60,301.20 457.70,289.10 463.40,283.30 469.20,283.90 474.90,280.50 478.40,278.70 483.00,281.40 489.90,274.70 495.50,273.30 498.40,271.00 504.20,274.50 509.90,277.90 515.10,276.20 519.10,287.10" fill="none" stroke="#111" stroke-width="1.3" stroke-linejoin="round"/>
<polyline points="320.00,382.80 323.60,384.20 329.20,382.30 334.90,381.80 340.50,382.80 346.10,378.50 348.90,381.30 354.50,382.30 357.30,383.20 360.70,379.50 366.50,376.10 372.20,374.90 378.00,374.90 383.70,371.50 389.50,370.30 395.00,370.30 399.40,369.40 406.80,366.40 414.20,363.50 420.00,359.70 424.90,355.80 429.80,349.40 434.80,343.50 439.70,335.60 444.60,324.80 448.50,310.00 450.50,303.20 453.60,307.50 457.00,294.00 462.30,283.30 468.00,278.20 473.80,269.50 476.60,265.50 481.80,261.50 484.50,262.80 489.80,251.30 493.80,246.30 496.10,245.70 499.60,241.70 501.30,242.80 504.20,267.00 509.90,268.20 515.10,268.20 518.50,278.50" fill="none" stroke="#ff2a2a" stroke-width="1.5" stroke-linejoin="round"/>
<rect x="319.70" y="225.50" width="199.70" height="164.80" fill="none" stroke="#444" stroke-width="1.1"/>
<line x1="350.83" y1="390.30" x2="350.83" y2="388.30" stroke="#333" stroke-width="0.8"/>
<line x1="379.13" y1="390.30" x2="379.13" y2="388.30" stroke="#333" stroke-width="0.8"/>
<line x1="407.43" y1="390.30" x2="407.43" y2="388.30" stroke="#333" stroke-width="0.8"/>
<line x1="435.73" y1="390.30" x2="435.73" y2="388.30" stroke="#333" stroke-width="0.8"/>
<line x1="464.03" y1="390.30" x2="464.03" y2="388.30" stroke="#333" stroke-width="0.8"/>
<line x1="492.33" y1="390.30" x2="492.33" y2="388.30" stroke="#333" stroke-width="0.8"/>
<text x="0" y="0" transform="translate(316.40 390.90) scale(1 1.15)" font-size="7.3" text-anchor="end" fill="#000" stroke="#000" font-weight="bold" dominant-baseline="central">0</text>
<text x="0" y="0" transform="translate(316.40 367.30) scale(1 1.15)" font-size="7.3" text-anchor="end" fill="#000" stroke="#000" font-weight="bold" dominant-baseline="central">500</text>
<text x="0" y="0" transform="translate(316.40 343.70) scale(1 1.15)" font-size="7.3" text-anchor="end" fill="#000" stroke="#000" font-weight="bold" dominant-baseline="central">1000</text>
<text x="0" y="0" transform="translate(316.40 320.10) scale(1 1.15)" font-size="7.3" text-anchor="end" fill="#000" stroke="#000" font-weight="bold" dominant-baseline="central">1500</text>
<text x="0" y="0" transform="translate(316.40 296.50) scale(1 1.15)" font-size="7.3" text-anchor="end" fill="#000" stroke="#000" font-weight="bold" dominant-baseline="central">2000</text>
<text x="0" y="0" transform="translate(316.40 272.90) scale(1 1.15)" font-size="7.3" text-anchor="end" fill="#000" stroke="#000" font-weight="bold" dominant-baseline="central">2500</text>
<text x="0" y="0" transform="translate(316.40 249.30) scale(1 1.15)" font-size="7.3" text-anchor="end" fill="#000" stroke="#000" font-weight="bold" dominant-baseline="central">3000</text>
<text x="0" y="0" transform="translate(316.40 225.70) scale(1 1.15)" font-size="7.3" text-anchor="end" fill="#000" stroke="#000" font-weight="bold" dominant-baseline="central">3500</text>
<text x="0" y="0" transform="translate(522.70 391.10) scale(1 1.15)" font-size="7.3" text-anchor="start" fill="#ff3030" stroke="#ff3030" font-weight="bold" dominant-baseline="central">0</text>
<text x="0" y="0" transform="translate(522.70 354.40) scale(1 1.15)" font-size="7.3" text-anchor="start" fill="#ff3030" stroke="#ff3030" font-weight="bold" dominant-baseline="central">200</text>
<text x="0" y="0" transform="translate(522.70 317.70) scale(1 1.15)" font-size="7.3" text-anchor="start" fill="#ff3030" stroke="#ff3030" font-weight="bold" dominant-baseline="central">400</text>
<text x="0" y="0" transform="translate(522.70 281.00) scale(1 1.15)" font-size="7.3" text-anchor="start" fill="#ff3030" stroke="#ff3030" font-weight="bold" dominant-baseline="central">600</text>
<text x="0" y="0" transform="translate(522.70 244.30) scale(1 1.15)" font-size="7.3" text-anchor="start" fill="#ff3030" stroke="#ff3030" font-weight="bold" dominant-baseline="central">800</text>
<text x="0" y="0" transform="translate(319.70 397.30) scale(1 1.15)" font-size="7" text-anchor="middle" fill="#000" stroke="#000" font-weight="bold" dominant-baseline="central">1949</text>
<text x="0" y="0" transform="translate(350.83 397.30) scale(1 1.15)" font-size="7" text-anchor="middle" fill="#000" stroke="#000" font-weight="bold" dominant-baseline="central">1960</text>
<text x="0" y="0" transform="translate(379.13 397.30) scale(1 1.15)" font-size="7" text-anchor="middle" fill="#000" stroke="#000" font-weight="bold" dominant-baseline="central">1970</text>
<text x="0" y="0" transform="translate(407.43 397.30) scale(1 1.15)" font-size="7" text-anchor="middle" fill="#000" stroke="#000" font-weight="bold" dominant-baseline="central">1980</text>
<text x="0" y="0" transform="translate(435.73 397.30) scale(1 1.15)" font-size="7" text-anchor="middle" fill="#000" stroke="#000" font-weight="bold" dominant-baseline="central">1990</text>
<text x="0" y="0" transform="translate(464.03 397.30) scale(1 1.15)" font-size="7" text-anchor="middle" fill="#000" stroke="#000" font-weight="bold" dominant-baseline="central">2000</text>
<text x="0" y="0" transform="translate(492.33 397.30) scale(1 1.15)" font-size="7" text-anchor="middle" fill="#000" stroke="#000" font-weight="bold" dominant-baseline="central">2010</text>
<text x="0" y="0" transform="translate(517.80 397.30) scale(1 1.15)" font-size="7" text-anchor="middle" fill="#000" stroke="#000" font-weight="bold" dominant-baseline="central">2019</text>
<text x="0" y="0" font-size="7.8" font-weight="bold" stroke="#000" text-anchor="middle" dominant-baseline="central" transform="translate(296.0 307.6) rotate(-90) scale(1 1.12)">P flow of livestock and poultry breeding(Gg-P Yr<tspan dy="-2.6" font-size="4.9">&#8722;1</tspan><tspan dy="2.6">)</tspan></text>
<text x="0" y="0" font-size="7.6" font-weight="bold" stroke="#000" text-anchor="middle" dominant-baseline="central" transform="translate(540.8 308.5) rotate(-90) scale(1 1.12)">Slaughter &amp; Egg (Gg-P Yr<tspan dy="-2.6" font-size="4.9">&#8722;1</tspan><tspan dy="2.6">)</tspan></text>
<text x="0" y="0" transform="translate(307.20 215.10) scale(1 1.04)" font-size="12.8" text-anchor="middle" fill="#000" stroke="#000" font-weight="bold" dominant-baseline="central">(d)</text>
<rect x="325.40" y="229.30" width="16.90" height="8.20" fill="url(#gFeedL)" stroke="#444" stroke-width="0.4"/>
<text x="0" y="0" transform="translate(345.00 233.40) scale(1 1.15)" font-size="7.8" text-anchor="start" fill="#000" stroke="#000" font-weight="bold" dominant-baseline="central">In flow-Feed</text>
<rect x="325.40" y="239.30" width="16.90" height="8.20" fill="url(#gPasL)" stroke="#444" stroke-width="0.4"/>
<text x="0" y="0" transform="translate(345.00 243.40) scale(1 1.15)" font-size="7.8" text-anchor="start" fill="#000" stroke="#000" font-weight="bold" dominant-baseline="central">In flow-pasture</text>
<line x1="326.00" y1="254.20" x2="343.00" y2="254.20" stroke="#222" stroke-width="1.3"/>
<text x="0" y="0" transform="translate(345.00 254.20) scale(1 1.15)" font-size="7.8" text-anchor="start" fill="#000" stroke="#000" font-weight="bold" dominant-baseline="central">Out flow-Manure</text>
<line x1="326.00" y1="263.10" x2="343.00" y2="263.10" stroke="#ff2020" stroke-width="1.3"/>
<text x="0" y="0" transform="translate(345.00 263.10) scale(1 1.15)" font-size="7.8" text-anchor="start" fill="#000" stroke="#000" font-weight="bold" dominant-baseline="central">Out flow-Slaughter &amp; Egg</text>
<polygon points="37.80,593.20 37.90,566.80 39.80,563.00 43.50,560.20 46.40,557.40 49.20,557.00 53.00,555.50 55.80,552.60 58.60,551.70 60.50,553.60 63.40,551.70 66.20,557.40 70.00,563.00 71.80,564.00 74.70,562.10 78.50,561.10 82.20,557.40 86.00,553.60 89.80,550.80 92.60,551.70 96.40,547.90 100.20,550.80 103.90,549.80 106.80,544.20 110.50,540.00 113.40,538.90 117.10,540.00 120.00,535.70 122.80,529.00 126.60,527.20 130.00,521.50 132.50,516.40 135.10,508.80 137.60,503.70 140.20,508.80 141.50,512.60 144.00,508.80 146.60,507.50 150.40,510.00 154.20,498.60 155.50,497.30 158.00,503.70 161.80,508.80 165.70,512.60 168.20,507.50 172.00,494.70 174.60,498.60 177.10,498.60 179.70,502.40 182.20,508.80 186.00,513.80 189.80,515.10 192.40,516.40 194.90,501.10 198.80,496.00 202.60,489.70 206.40,485.80 210.20,483.30 214.00,478.20 217.90,468.00 221.70,465.50 224.20,464.20 226.80,452.70 229.30,454.00 230.60,456.60 233.10,454.00 235.70,456.60 237.00,447.60 237.60,443.80 237.60,593.20" fill="#ffec2a"/>
<polygon points="37.80,593.20 37.90,585.70 45.40,582.80 54.90,581.90 62.40,580.90 66.20,582.80 70.00,584.70 77.50,583.80 85.00,580.90 92.60,579.10 100.20,578.10 107.70,576.20 115.20,575.80 119.00,575.30 122.80,573.40 125.60,572.50 130.30,575.00 136.00,572.50 142.70,571.10 152.90,569.90 155.50,568.60 158.00,573.70 168.20,572.40 170.70,571.10 183.50,571.10 186.00,577.50 191.10,578.80 206.40,577.50 219.10,577.30 221.70,579.80 231.90,579.50 237.60,580.00 237.60,593.20" fill="#ff8c3a"/>
<polygon points="37.80,593.20 37.90,593.20 95.00,593.00 110.00,592.30 130.00,590.20 155.50,589.70 165.70,587.20 180.90,586.40 193.70,587.20 206.40,587.70 216.60,587.70 221.70,586.80 226.80,585.20 234.40,585.70 237.60,587.20 237.60,593.20" fill="#fb4752"/>
<rect x="37.80" y="428.00" width="199.80" height="165.20" fill="none" stroke="#666" stroke-width="1.1"/>
<line x1="69.20" y1="593.20" x2="69.20" y2="591.20" stroke="#333" stroke-width="0.8"/>
<line x1="97.75" y1="593.20" x2="97.75" y2="591.20" stroke="#333" stroke-width="0.8"/>
<line x1="126.30" y1="593.20" x2="126.30" y2="591.20" stroke="#333" stroke-width="0.8"/>
<line x1="154.85" y1="593.20" x2="154.85" y2="591.20" stroke="#333" stroke-width="0.8"/>
<line x1="183.40" y1="593.20" x2="183.40" y2="591.20" stroke="#333" stroke-width="0.8"/>
<line x1="211.95" y1="593.20" x2="211.95" y2="591.20" stroke="#333" stroke-width="0.8"/>
<text x="0" y="0" transform="translate(34.80 593.80) scale(1 1.15)" font-size="7" text-anchor="end" fill="#000" stroke="#000" font-weight="bold" dominant-baseline="central">0</text>
<text x="0" y="0" transform="translate(34.80 568.35) scale(1 1.15)" font-size="7" text-anchor="end" fill="#000" stroke="#000" font-weight="bold" dominant-baseline="central">500</text>
<text x="0" y="0" transform="translate(34.80 542.90) scale(1 1.15)" font-size="7" text-anchor="end" fill="#000" stroke="#000" font-weight="bold" dominant-baseline="central">1000</text>
<text x="0" y="0" transform="translate(34.80 517.45) scale(1 1.15)" font-size="7" text-anchor="end" fill="#000" stroke="#000" font-weight="bold" dominant-baseline="central">1500</text>
<text x="0" y="0" transform="translate(34.80 492.00) scale(1 1.15)" font-size="7" text-anchor="end" fill="#000" stroke="#000" font-weight="bold" dominant-baseline="central">2000</text>
<text x="0" y="0" transform="translate(34.80 466.55) scale(1 1.15)" font-size="7" text-anchor="end" fill="#000" stroke="#000" font-weight="bold" dominant-baseline="central">2500</text>
<text x="0" y="0" transform="translate(34.80 441.10) scale(1 1.15)" font-size="7" text-anchor="end" fill="#000" stroke="#000" font-weight="bold" dominant-baseline="central">3000</text>
<text x="0" y="0" transform="translate(37.80 599.50) scale(1 1.15)" font-size="7" text-anchor="middle" fill="#000" stroke="#000" font-weight="bold" dominant-baseline="central">1949</text>
<text x="0" y="0" transform="translate(69.20 599.50) scale(1 1.15)" font-size="7" text-anchor="middle" fill="#000" stroke="#000" font-weight="bold" dominant-baseline="central">1960</text>
<text x="0" y="0" transform="translate(97.75 599.50) scale(1 1.15)" font-size="7" text-anchor="middle" fill="#000" stroke="#000" font-weight="bold" dominant-baseline="central">1970</text>
<text x="0" y="0" transform="translate(126.30 599.50) scale(1 1.15)" font-size="7" text-anchor="middle" fill="#000" stroke="#000" font-weight="bold" dominant-baseline="central">1980</text>
<text x="0" y="0" transform="translate(154.85 599.50) scale(1 1.15)" font-size="7" text-anchor="middle" fill="#000" stroke="#000" font-weight="bold" dominant-baseline="central">1990</text>
<text x="0" y="0" transform="translate(183.40 599.50) scale(1 1.15)" font-size="7" text-anchor="middle" fill="#000" stroke="#000" font-weight="bold" dominant-baseline="central">2000</text>
<text x="0" y="0" transform="translate(211.95 599.50) scale(1 1.15)" font-size="7" text-anchor="middle" fill="#000" stroke="#000" font-weight="bold" dominant-baseline="central">2010</text>
<text x="0" y="0" transform="translate(237.65 599.50) scale(1 1.15)" font-size="7" text-anchor="middle" fill="#000" stroke="#000" font-weight="bold" dominant-baseline="central">2019</text>
<text x="0" y="0" font-size="8.63" font-weight="bold" stroke="#000" text-anchor="middle" dominant-baseline="central" transform="translate(14.6 510.1) rotate(-90) scale(1 1.12)">P flow of human consumption(Gg-P Yr<tspan dy="-3" font-size="5.6">&#8722;1</tspan><tspan dy="3">)</tspan></text>
<text x="0" y="0" transform="translate(25.30 417.40) scale(1 1.04)" font-size="12.8" text-anchor="middle" fill="#000" stroke="#000" font-weight="bold" dominant-baseline="central">(e)</text>
<rect x="43.60" y="432.00" width="19.40" height="9.40" fill="#fb4752"/>
<text x="0" y="0" transform="translate(65.60 436.70) scale(1 1.15)" font-size="8.4" text-anchor="start" fill="#000" stroke="#000" font-weight="bold" dominant-baseline="central">Inflow-Detergent</text>
<rect x="43.60" y="442.80" width="19.40" height="9.40" fill="#ff8c3a"/>
<text x="0" y="0" transform="translate(65.60 447.50) scale(1 1.15)" font-size="8.4" text-anchor="start" fill="#000" stroke="#000" font-weight="bold" dominant-baseline="central">Inflow-Straw</text>
<rect x="43.60" y="453.60" width="19.40" height="9.40" fill="#ffec2a"/>
<text x="0" y="0" transform="translate(65.60 458.30) scale(1 1.15)" font-size="8.4" text-anchor="start" fill="#000" stroke="#000" font-weight="bold" dominant-baseline="central">Inflow-Food</text>
<polygon points="319.40,593.20 319.40,532.60 348.00,514.10 353.72,515.20 393.76,478.80 396.62,494.60 405.20,489.50 416.64,482.30 422.36,478.30 425.22,501.90 450.96,480.20 453.82,482.90 465.26,474.80 476.70,465.30 482.42,463.90 496.72,458.50 499.58,459.80 508.16,454.40 519.60,442.20 519.40,593.20" fill="#c4aad8"/>
<polygon points="319.40,593.20 319.40,538.80 345.14,523.80 353.72,524.40 393.76,491.60 396.62,507.00 416.64,496.70 422.36,493.70 425.22,518.10 450.96,507.30 453.82,509.20 496.72,493.70 499.58,495.10 519.60,488.30 519.40,593.20" fill="#7ed69c"/>
<polygon points="319.40,593.20 319.40,541.90 348.00,530.60 353.72,531.60 393.76,507.00 396.62,523.40 416.64,516.80 422.36,515.40 425.22,541.20 450.96,535.80 453.82,538.50 519.60,530.90 519.40,593.20" fill="#ffc896"/>
<rect x="319.40" y="428.00" width="200.00" height="165.20" fill="none" stroke="#555" stroke-width="1.1"/>
<line x1="350.86" y1="593.20" x2="350.86" y2="591.20" stroke="#333" stroke-width="0.8"/>
<line x1="379.46" y1="593.20" x2="379.46" y2="591.20" stroke="#333" stroke-width="0.8"/>
<line x1="408.06" y1="593.20" x2="408.06" y2="591.20" stroke="#333" stroke-width="0.8"/>
<line x1="436.66" y1="593.20" x2="436.66" y2="591.20" stroke="#333" stroke-width="0.8"/>
<line x1="465.26" y1="593.20" x2="465.26" y2="591.20" stroke="#333" stroke-width="0.8"/>
<line x1="493.86" y1="593.20" x2="493.86" y2="591.20" stroke="#333" stroke-width="0.8"/>
<text x="0" y="0" transform="translate(316.30 593.80) scale(1 1.15)" font-size="7" text-anchor="end" fill="#000" stroke="#000" font-weight="bold" dominant-baseline="central">0</text>
<text x="0" y="0" transform="translate(316.30 573.15) scale(1 1.15)" font-size="7" text-anchor="end" fill="#000" stroke="#000" font-weight="bold" dominant-baseline="central">100</text>
<text x="0" y="0" transform="translate(316.30 552.50) scale(1 1.15)" font-size="7" text-anchor="end" fill="#000" stroke="#000" font-weight="bold" dominant-baseline="central">200</text>
<text x="0" y="0" transform="translate(316.30 531.85) scale(1 1.15)" font-size="7" text-anchor="end" fill="#000" stroke="#000" font-weight="bold" dominant-baseline="central">300</text>
<text x="0" y="0" transform="translate(316.30 511.20) scale(1 1.15)" font-size="7" text-anchor="end" fill="#000" stroke="#000" font-weight="bold" dominant-baseline="central">400</text>
<text x="0" y="0" transform="translate(316.30 490.55) scale(1 1.15)" font-size="7" text-anchor="end" fill="#000" stroke="#000" font-weight="bold" dominant-baseline="central">500</text>
<text x="0" y="0" transform="translate(316.30 469.90) scale(1 1.15)" font-size="7" text-anchor="end" fill="#000" stroke="#000" font-weight="bold" dominant-baseline="central">600</text>
<text x="0" y="0" transform="translate(316.30 449.25) scale(1 1.15)" font-size="7" text-anchor="end" fill="#000" stroke="#000" font-weight="bold" dominant-baseline="central">700</text>
<text x="0" y="0" transform="translate(316.30 428.60) scale(1 1.15)" font-size="7" text-anchor="end" fill="#000" stroke="#000" font-weight="bold" dominant-baseline="central">800</text>
<text x="0" y="0" transform="translate(319.40 599.50) scale(1 1.15)" font-size="7" text-anchor="middle" fill="#000" stroke="#000" font-weight="bold" dominant-baseline="central">1949</text>
<text x="0" y="0" transform="translate(350.86 599.50) scale(1 1.15)" font-size="7" text-anchor="middle" fill="#000" stroke="#000" font-weight="bold" dominant-baseline="central">1960</text>
<text x="0" y="0" transform="translate(379.46 599.50) scale(1 1.15)" font-size="7" text-anchor="middle" fill="#000" stroke="#000" font-weight="bold" dominant-baseline="central">1970</text>
<text x="0" y="0" transform="translate(408.06 599.50) scale(1 1.15)" font-size="7" text-anchor="middle" fill="#000" stroke="#000" font-weight="bold" dominant-baseline="central">1980</text>
<text x="0" y="0" transform="translate(436.66 599.50) scale(1 1.15)" font-size="7" text-anchor="middle" fill="#000" stroke="#000" font-weight="bold" dominant-baseline="central">1990</text>
<text x="0" y="0" transform="translate(465.26 599.50) scale(1 1.15)" font-size="7" text-anchor="middle" fill="#000" stroke="#000" font-weight="bold" dominant-baseline="central">2000</text>
<text x="0" y="0" transform="translate(493.86 599.50) scale(1 1.15)" font-size="7" text-anchor="middle" fill="#000" stroke="#000" font-weight="bold" dominant-baseline="central">2010</text>
<text x="0" y="0" transform="translate(519.60 599.50) scale(1 1.15)" font-size="7" text-anchor="middle" fill="#000" stroke="#000" font-weight="bold" dominant-baseline="central">2019</text>
<text x="0" y="0" transform="translate(308.20 417.20) scale(1 1.04)" font-size="12.8" text-anchor="middle" fill="#000" stroke="#000" font-weight="bold" dominant-baseline="central">(f)</text>
<rect x="324.60" y="431.40" width="19.10" height="9.60" fill="#ffc896"/>
<text x="0" y="0" transform="translate(346.20 436.20) scale(1 1.15)" font-size="8.6" text-anchor="start" fill="#000" stroke="#000" font-weight="bold" dominant-baseline="central">Outflow-Feces</text>
<rect x="324.60" y="442.10" width="19.10" height="9.60" fill="#7ed69c"/>
<text x="0" y="0" transform="translate(346.20 446.90) scale(1 1.15)" font-size="8.6" text-anchor="start" fill="#000" stroke="#000" font-weight="bold" dominant-baseline="central">Outflow-Wasterwater</text>
<rect x="324.60" y="452.80" width="19.10" height="9.60" fill="#c4aad8"/>
<text x="0" y="0" transform="translate(346.20 457.60) scale(1 1.15)" font-size="8.6" text-anchor="start" fill="#000" stroke="#000" font-weight="bold" dominant-baseline="central">Outflow-Solidwaster</text>
</svg>
</body></html>
